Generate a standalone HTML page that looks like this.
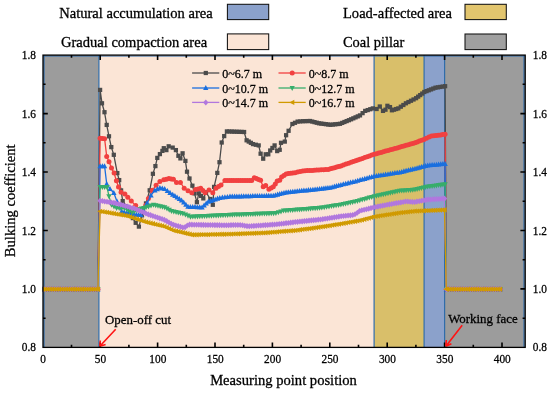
<!DOCTYPE html>
<html><head><meta charset="utf-8"><title>Bulking coefficient</title>
<style>
html,body{margin:0;padding:0;background:#fff;}
svg{display:block;}
text{font-family:"Liberation Serif","Times New Roman",serif;fill:#000;stroke:#000;stroke-width:0.28px;}
.tk{font-size:12.6px;}
.lg{font-size:12px;}
.tl{font-size:14.5px;}
.an{font-size:12.9px;}
.ax{font-size:14.6px;}
</style></head><body>
<svg width="550" height="393" viewBox="0 0 550 393">
<rect width="550" height="393" fill="#fff"/>
<defs><clipPath id="pc"><rect x="42.7" y="55.1" width="482.5" height="292.3"/></clipPath></defs>
<rect x="43.0" y="55.1" width="55.9" height="292.3" fill="#9C9C9C"/>
<rect x="98.9" y="55.1" width="275.2" height="292.3" fill="#FBE5D6"/>
<rect x="374.1" y="55.1" width="50.0" height="292.3" fill="#D9BF6A"/>
<rect x="424.1" y="55.1" width="20.5" height="292.3" fill="#8BA1CB"/>
<rect x="444.6" y="55.1" width="80.6" height="292.3" fill="#9C9C9C"/>
<path d="M44.0 55.1V347.4M98.9 55.1V347.4M374.1 55.1V347.4M424.1 55.1V347.4M444.6 55.1V347.4M524.0 55.1V347.4" stroke="#2F6CAA" stroke-width="1.2" fill="none"/>
<path d="M43.0 56.1H525.2" stroke="#2F6CAA" stroke-width="0.9" fill="none"/>
<path d="M71.5 347.4v-2.6M71.5 55.1v2.6M100.2 347.4v-4.8M100.2 55.1v4.8M128.9 347.4v-2.6M128.9 55.1v2.6M157.6 347.4v-4.8M157.6 55.1v4.8M186.3 347.4v-2.6M186.3 55.1v2.6M215.0 347.4v-4.8M215.0 55.1v4.8M243.7 347.4v-2.6M243.7 55.1v2.6M272.4 347.4v-4.8M272.4 55.1v4.8M301.1 347.4v-2.6M301.1 55.1v2.6M329.8 347.4v-4.8M329.8 55.1v4.8M358.5 347.4v-2.6M358.5 55.1v2.6M387.2 347.4v-4.8M387.2 55.1v4.8M415.9 347.4v-2.6M415.9 55.1v2.6M444.6 347.4v-4.8M444.6 55.1v4.8M473.3 347.4v-2.6M473.3 55.1v2.6M502.0 347.4v-4.8M502.0 55.1v4.8M43.0 318.2h2.6M525.2 318.2h-2.6M43.0 288.9h4.8M525.2 288.9h-4.8M43.0 259.7h2.6M525.2 259.7h-2.6M43.0 230.5h4.8M525.2 230.5h-4.8M43.0 201.2h2.6M525.2 201.2h-2.6M43.0 172.0h4.8M525.2 172.0h-4.8M43.0 142.8h2.6M525.2 142.8h-2.6M43.0 113.6h4.8M525.2 113.6h-4.8M43.0 84.3h2.6M525.2 84.3h-2.6" stroke="#000" stroke-width="1.6" fill="none"/>
<g clip-path="url(#pc)"><path d="M42.8 289.2L45.1 289.2L47.4 289.2L49.7 289.2L52.0 289.2L54.3 289.2L56.6 289.2L58.9 289.2L61.2 289.2L63.5 289.2L65.8 289.2L68.1 289.2L70.4 289.2L72.6 289.2L74.9 289.2L77.2 289.2L79.5 289.2L81.8 289.2L84.1 289.2L86.4 289.2L88.7 289.2L91.0 289.2L93.3 289.2L95.6 289.2L97.9 289.2L100.1 89.9L102.0 103.3L104.5 112.2L106.7 124.9L109.0 136.3L111.3 147.1L113.8 154.8L117.3 173.1L119.2 180.1L121.1 190.4L122.7 201.1L126.0 206.4L130.0 213.4L132.8 218.1L135.7 222.8L138.9 226.6L142.0 215.4L146.0 203.4L149.7 190.3L152.9 173.8L155.4 166.1L157.3 157.9L159.9 154.1L162.4 150.9L163.8 148.2L166.4 150.1L168.7 146.3L172.7 147.6L175.9 150.1L178.4 155.8L180.4 158.4L182.6 153.3L185.4 160.9L187.0 171.7L189.5 178.5L192.4 185.7L194.5 193.4L196.9 202.2L198.8 193.3L201.1 195.8L203.3 198.4L206.0 192.4L210.3 199.0L212.8 204.8L214.1 186.9L217.3 172.9L219.5 162.2L221.7 142.5L224.2 136.1L226.9 131.4L229.4 131.5L231.8 131.6L234.3 131.7L236.7 131.7L239.2 131.8L241.6 131.9L244.1 132.0L246.6 140.3L248.7 141.6L250.9 142.8L253.0 144.1L255.8 144.8L258.7 145.4L260.6 153.7L263.2 158.7L265.7 154.3L268.3 154.3L270.2 150.5L272.4 148.0L274.6 145.4L277.2 151.1L279.7 149.8L281.0 142.8L284.8 141.6L286.1 135.2L288.6 130.8L292.4 124.0L295.0 122.8L297.6 121.6L300.3 121.4L303.0 121.2L305.3 121.1L307.7 121.1L310.0 121.0L312.2 121.6L314.5 122.2L316.8 122.7L319.0 123.3L321.3 123.6L323.6 123.9L325.9 124.2L328.2 124.5L330.5 124.8L332.9 124.6L335.2 124.3L337.6 124.1L340.0 123.8L342.2 122.9L344.4 122.0L346.7 121.1L348.9 120.2L351.1 119.3L353.3 118.3L355.6 117.4L357.8 116.4L360.0 115.4L362.6 113.1L365.2 110.9L367.7 110.1L370.3 109.2L372.8 108.4L376.6 109.0L379.8 106.5L383.0 110.9L385.5 109.7L387.4 105.8L390.0 107.1L391.9 110.3L394.0 109.7L396.2 109.0L398.3 108.4L400.8 106.7L403.4 105.0L405.9 103.3L408.4 102.0L411.0 100.8L413.6 99.5L416.1 98.2L418.2 96.6L420.2 95.1L422.2 93.6L424.3 92.0L426.5 91.1L428.8 90.3L431.0 89.4L433.3 88.6L435.5 87.7L437.9 87.3L440.3 87.0L442.7 86.6L445.1 86.2L446.3 289.2L447.2 289.2L449.5 289.2L451.8 289.2L454.1 289.2L456.4 289.2L458.7 289.2L461.0 289.2L463.3 289.2L465.6 289.2L467.9 289.2L470.2 289.2L472.5 289.2L474.7 289.2L477.0 289.2L479.3 289.2L481.6 289.2L483.9 289.2L486.2 289.2L488.5 289.2L490.8 289.2L493.1 289.2L495.4 289.2L497.7 289.2L500.0 289.2" fill="none" stroke="#4B4B4B" stroke-width="1.3" stroke-linejoin="round"/>
<rect x="40.68" y="287.12" width="4.24" height="4.24" fill="#4B4B4B"/><rect x="42.98" y="287.12" width="4.24" height="4.24" fill="#4B4B4B"/><rect x="45.27" y="287.12" width="4.24" height="4.24" fill="#4B4B4B"/><rect x="47.57" y="287.12" width="4.24" height="4.24" fill="#4B4B4B"/><rect x="49.86" y="287.12" width="4.24" height="4.24" fill="#4B4B4B"/><rect x="52.16" y="287.12" width="4.24" height="4.24" fill="#4B4B4B"/><rect x="54.46" y="287.12" width="4.24" height="4.24" fill="#4B4B4B"/><rect x="56.75" y="287.12" width="4.24" height="4.24" fill="#4B4B4B"/><rect x="59.05" y="287.12" width="4.24" height="4.24" fill="#4B4B4B"/><rect x="61.34" y="287.12" width="4.24" height="4.24" fill="#4B4B4B"/><rect x="63.64" y="287.12" width="4.24" height="4.24" fill="#4B4B4B"/><rect x="65.94" y="287.12" width="4.24" height="4.24" fill="#4B4B4B"/><rect x="68.23" y="287.12" width="4.24" height="4.24" fill="#4B4B4B"/><rect x="70.53" y="287.12" width="4.24" height="4.24" fill="#4B4B4B"/><rect x="72.82" y="287.12" width="4.24" height="4.24" fill="#4B4B4B"/><rect x="75.12" y="287.12" width="4.24" height="4.24" fill="#4B4B4B"/><rect x="77.42" y="287.12" width="4.24" height="4.24" fill="#4B4B4B"/><rect x="79.71" y="287.12" width="4.24" height="4.24" fill="#4B4B4B"/><rect x="82.01" y="287.12" width="4.24" height="4.24" fill="#4B4B4B"/><rect x="84.30" y="287.12" width="4.24" height="4.24" fill="#4B4B4B"/><rect x="86.60" y="287.12" width="4.24" height="4.24" fill="#4B4B4B"/><rect x="88.90" y="287.12" width="4.24" height="4.24" fill="#4B4B4B"/><rect x="91.19" y="287.12" width="4.24" height="4.24" fill="#4B4B4B"/><rect x="93.49" y="287.12" width="4.24" height="4.24" fill="#4B4B4B"/><rect x="95.78" y="287.12" width="4.24" height="4.24" fill="#4B4B4B"/><rect x="97.98" y="87.78" width="4.24" height="4.24" fill="#4B4B4B"/><rect x="99.88" y="101.18" width="4.24" height="4.24" fill="#4B4B4B"/><rect x="102.38" y="110.08" width="4.24" height="4.24" fill="#4B4B4B"/><rect x="104.58" y="122.78" width="4.24" height="4.24" fill="#4B4B4B"/><rect x="106.88" y="134.18" width="4.24" height="4.24" fill="#4B4B4B"/><rect x="109.18" y="144.98" width="4.24" height="4.24" fill="#4B4B4B"/><rect x="111.68" y="152.68" width="4.24" height="4.24" fill="#4B4B4B"/><rect x="115.18" y="170.98" width="4.24" height="4.24" fill="#4B4B4B"/><rect x="117.08" y="177.98" width="4.24" height="4.24" fill="#4B4B4B"/><rect x="118.98" y="188.28" width="4.24" height="4.24" fill="#4B4B4B"/><rect x="120.58" y="198.98" width="4.24" height="4.24" fill="#4B4B4B"/><rect x="123.88" y="204.28" width="4.24" height="4.24" fill="#4B4B4B"/><rect x="127.88" y="211.28" width="4.24" height="4.24" fill="#4B4B4B"/><rect x="130.73" y="215.98" width="4.24" height="4.24" fill="#4B4B4B"/><rect x="133.58" y="220.68" width="4.24" height="4.24" fill="#4B4B4B"/><rect x="136.78" y="224.48" width="4.24" height="4.24" fill="#4B4B4B"/><rect x="139.88" y="213.28" width="4.24" height="4.24" fill="#4B4B4B"/><rect x="143.88" y="201.28" width="4.24" height="4.24" fill="#4B4B4B"/><rect x="147.58" y="188.18" width="4.24" height="4.24" fill="#4B4B4B"/><rect x="150.78" y="171.68" width="4.24" height="4.24" fill="#4B4B4B"/><rect x="153.28" y="163.98" width="4.24" height="4.24" fill="#4B4B4B"/><rect x="155.18" y="155.78" width="4.24" height="4.24" fill="#4B4B4B"/><rect x="157.78" y="151.98" width="4.24" height="4.24" fill="#4B4B4B"/><rect x="160.28" y="148.78" width="4.24" height="4.24" fill="#4B4B4B"/><rect x="161.68" y="146.08" width="4.24" height="4.24" fill="#4B4B4B"/><rect x="164.28" y="147.98" width="4.24" height="4.24" fill="#4B4B4B"/><rect x="166.58" y="144.18" width="4.24" height="4.24" fill="#4B4B4B"/><rect x="170.58" y="145.48" width="4.24" height="4.24" fill="#4B4B4B"/><rect x="173.78" y="147.98" width="4.24" height="4.24" fill="#4B4B4B"/><rect x="176.28" y="153.68" width="4.24" height="4.24" fill="#4B4B4B"/><rect x="178.28" y="156.28" width="4.24" height="4.24" fill="#4B4B4B"/><rect x="180.48" y="151.18" width="4.24" height="4.24" fill="#4B4B4B"/><rect x="183.28" y="158.78" width="4.24" height="4.24" fill="#4B4B4B"/><rect x="184.88" y="169.58" width="4.24" height="4.24" fill="#4B4B4B"/><rect x="187.38" y="176.38" width="4.24" height="4.24" fill="#4B4B4B"/><rect x="190.28" y="183.58" width="4.24" height="4.24" fill="#4B4B4B"/><rect x="192.38" y="191.28" width="4.24" height="4.24" fill="#4B4B4B"/><rect x="194.78" y="200.08" width="4.24" height="4.24" fill="#4B4B4B"/><rect x="196.68" y="191.18" width="4.24" height="4.24" fill="#4B4B4B"/><rect x="198.93" y="193.73" width="4.24" height="4.24" fill="#4B4B4B"/><rect x="201.18" y="196.28" width="4.24" height="4.24" fill="#4B4B4B"/><rect x="203.88" y="190.28" width="4.24" height="4.24" fill="#4B4B4B"/><rect x="208.18" y="196.88" width="4.24" height="4.24" fill="#4B4B4B"/><rect x="210.68" y="202.68" width="4.24" height="4.24" fill="#4B4B4B"/><rect x="211.98" y="184.78" width="4.24" height="4.24" fill="#4B4B4B"/><rect x="215.18" y="170.78" width="4.24" height="4.24" fill="#4B4B4B"/><rect x="217.38" y="160.08" width="4.24" height="4.24" fill="#4B4B4B"/><rect x="219.58" y="140.38" width="4.24" height="4.24" fill="#4B4B4B"/><rect x="222.08" y="133.98" width="4.24" height="4.24" fill="#4B4B4B"/><rect x="224.78" y="129.28" width="4.24" height="4.24" fill="#4B4B4B"/><rect x="227.24" y="129.37" width="4.24" height="4.24" fill="#4B4B4B"/><rect x="229.69" y="129.45" width="4.24" height="4.24" fill="#4B4B4B"/><rect x="232.15" y="129.54" width="4.24" height="4.24" fill="#4B4B4B"/><rect x="234.61" y="129.62" width="4.24" height="4.24" fill="#4B4B4B"/><rect x="237.07" y="129.71" width="4.24" height="4.24" fill="#4B4B4B"/><rect x="239.52" y="129.79" width="4.24" height="4.24" fill="#4B4B4B"/><rect x="241.98" y="129.88" width="4.24" height="4.24" fill="#4B4B4B"/><rect x="244.48" y="138.18" width="4.24" height="4.24" fill="#4B4B4B"/><rect x="246.61" y="139.45" width="4.24" height="4.24" fill="#4B4B4B"/><rect x="248.75" y="140.71" width="4.24" height="4.24" fill="#4B4B4B"/><rect x="250.88" y="141.98" width="4.24" height="4.24" fill="#4B4B4B"/><rect x="253.73" y="142.63" width="4.24" height="4.24" fill="#4B4B4B"/><rect x="256.58" y="143.28" width="4.24" height="4.24" fill="#4B4B4B"/><rect x="258.48" y="151.58" width="4.24" height="4.24" fill="#4B4B4B"/><rect x="261.08" y="156.58" width="4.24" height="4.24" fill="#4B4B4B"/><rect x="263.58" y="152.18" width="4.24" height="4.24" fill="#4B4B4B"/><rect x="266.18" y="152.18" width="4.24" height="4.24" fill="#4B4B4B"/><rect x="268.08" y="148.38" width="4.24" height="4.24" fill="#4B4B4B"/><rect x="270.28" y="145.83" width="4.24" height="4.24" fill="#4B4B4B"/><rect x="272.48" y="143.28" width="4.24" height="4.24" fill="#4B4B4B"/><rect x="275.08" y="148.98" width="4.24" height="4.24" fill="#4B4B4B"/><rect x="277.58" y="147.68" width="4.24" height="4.24" fill="#4B4B4B"/><rect x="278.88" y="140.68" width="4.24" height="4.24" fill="#4B4B4B"/><rect x="282.68" y="139.48" width="4.24" height="4.24" fill="#4B4B4B"/><rect x="283.98" y="133.08" width="4.24" height="4.24" fill="#4B4B4B"/><rect x="286.48" y="128.68" width="4.24" height="4.24" fill="#4B4B4B"/><rect x="290.28" y="121.88" width="4.24" height="4.24" fill="#4B4B4B"/><rect x="292.88" y="120.68" width="4.24" height="4.24" fill="#4B4B4B"/><rect x="295.48" y="119.48" width="4.24" height="4.24" fill="#4B4B4B"/><rect x="298.18" y="119.28" width="4.24" height="4.24" fill="#4B4B4B"/><rect x="300.88" y="119.08" width="4.24" height="4.24" fill="#4B4B4B"/><rect x="303.21" y="119.01" width="4.24" height="4.24" fill="#4B4B4B"/><rect x="305.55" y="118.95" width="4.24" height="4.24" fill="#4B4B4B"/><rect x="307.88" y="118.88" width="4.24" height="4.24" fill="#4B4B4B"/><rect x="310.13" y="119.45" width="4.24" height="4.24" fill="#4B4B4B"/><rect x="312.38" y="120.03" width="4.24" height="4.24" fill="#4B4B4B"/><rect x="314.63" y="120.61" width="4.24" height="4.24" fill="#4B4B4B"/><rect x="316.88" y="121.18" width="4.24" height="4.24" fill="#4B4B4B"/><rect x="319.18" y="121.48" width="4.24" height="4.24" fill="#4B4B4B"/><rect x="321.48" y="121.78" width="4.24" height="4.24" fill="#4B4B4B"/><rect x="323.78" y="122.08" width="4.24" height="4.24" fill="#4B4B4B"/><rect x="326.08" y="122.38" width="4.24" height="4.24" fill="#4B4B4B"/><rect x="328.38" y="122.68" width="4.24" height="4.24" fill="#4B4B4B"/><rect x="330.75" y="122.43" width="4.24" height="4.24" fill="#4B4B4B"/><rect x="333.13" y="122.18" width="4.24" height="4.24" fill="#4B4B4B"/><rect x="335.50" y="121.93" width="4.24" height="4.24" fill="#4B4B4B"/><rect x="337.88" y="121.68" width="4.24" height="4.24" fill="#4B4B4B"/><rect x="340.10" y="120.78" width="4.24" height="4.24" fill="#4B4B4B"/><rect x="342.32" y="119.88" width="4.24" height="4.24" fill="#4B4B4B"/><rect x="344.54" y="118.98" width="4.24" height="4.24" fill="#4B4B4B"/><rect x="346.76" y="118.08" width="4.24" height="4.24" fill="#4B4B4B"/><rect x="348.98" y="117.18" width="4.24" height="4.24" fill="#4B4B4B"/><rect x="351.21" y="116.20" width="4.24" height="4.24" fill="#4B4B4B"/><rect x="353.43" y="115.23" width="4.24" height="4.24" fill="#4B4B4B"/><rect x="355.65" y="114.26" width="4.24" height="4.24" fill="#4B4B4B"/><rect x="357.88" y="113.28" width="4.24" height="4.24" fill="#4B4B4B"/><rect x="360.48" y="111.03" width="4.24" height="4.24" fill="#4B4B4B"/><rect x="363.08" y="108.78" width="4.24" height="4.24" fill="#4B4B4B"/><rect x="365.61" y="107.95" width="4.24" height="4.24" fill="#4B4B4B"/><rect x="368.15" y="107.11" width="4.24" height="4.24" fill="#4B4B4B"/><rect x="370.68" y="106.28" width="4.24" height="4.24" fill="#4B4B4B"/><rect x="374.48" y="106.88" width="4.24" height="4.24" fill="#4B4B4B"/><rect x="377.68" y="104.38" width="4.24" height="4.24" fill="#4B4B4B"/><rect x="380.88" y="108.78" width="4.24" height="4.24" fill="#4B4B4B"/><rect x="383.38" y="107.58" width="4.24" height="4.24" fill="#4B4B4B"/><rect x="385.28" y="103.68" width="4.24" height="4.24" fill="#4B4B4B"/><rect x="387.88" y="104.98" width="4.24" height="4.24" fill="#4B4B4B"/><rect x="389.78" y="108.18" width="4.24" height="4.24" fill="#4B4B4B"/><rect x="391.91" y="107.55" width="4.24" height="4.24" fill="#4B4B4B"/><rect x="394.05" y="106.91" width="4.24" height="4.24" fill="#4B4B4B"/><rect x="396.18" y="106.28" width="4.24" height="4.24" fill="#4B4B4B"/><rect x="398.71" y="104.58" width="4.24" height="4.24" fill="#4B4B4B"/><rect x="401.25" y="102.88" width="4.24" height="4.24" fill="#4B4B4B"/><rect x="403.78" y="101.18" width="4.24" height="4.24" fill="#4B4B4B"/><rect x="406.33" y="99.91" width="4.24" height="4.24" fill="#4B4B4B"/><rect x="408.88" y="98.63" width="4.24" height="4.24" fill="#4B4B4B"/><rect x="411.43" y="97.36" width="4.24" height="4.24" fill="#4B4B4B"/><rect x="413.98" y="96.08" width="4.24" height="4.24" fill="#4B4B4B"/><rect x="416.03" y="94.53" width="4.24" height="4.24" fill="#4B4B4B"/><rect x="418.08" y="92.98" width="4.24" height="4.24" fill="#4B4B4B"/><rect x="420.13" y="91.43" width="4.24" height="4.24" fill="#4B4B4B"/><rect x="422.18" y="89.88" width="4.24" height="4.24" fill="#4B4B4B"/><rect x="424.42" y="89.02" width="4.24" height="4.24" fill="#4B4B4B"/><rect x="426.66" y="88.16" width="4.24" height="4.24" fill="#4B4B4B"/><rect x="428.90" y="87.30" width="4.24" height="4.24" fill="#4B4B4B"/><rect x="431.14" y="86.44" width="4.24" height="4.24" fill="#4B4B4B"/><rect x="433.38" y="85.58" width="4.24" height="4.24" fill="#4B4B4B"/><rect x="435.78" y="85.20" width="4.24" height="4.24" fill="#4B4B4B"/><rect x="438.18" y="84.83" width="4.24" height="4.24" fill="#4B4B4B"/><rect x="440.58" y="84.45" width="4.24" height="4.24" fill="#4B4B4B"/><rect x="442.98" y="84.08" width="4.24" height="4.24" fill="#4B4B4B"/><rect x="444.18" y="287.12" width="4.24" height="4.24" fill="#4B4B4B"/><rect x="445.08" y="287.12" width="4.24" height="4.24" fill="#4B4B4B"/><rect x="447.37" y="287.12" width="4.24" height="4.24" fill="#4B4B4B"/><rect x="449.67" y="287.12" width="4.24" height="4.24" fill="#4B4B4B"/><rect x="451.96" y="287.12" width="4.24" height="4.24" fill="#4B4B4B"/><rect x="454.26" y="287.12" width="4.24" height="4.24" fill="#4B4B4B"/><rect x="456.56" y="287.12" width="4.24" height="4.24" fill="#4B4B4B"/><rect x="458.85" y="287.12" width="4.24" height="4.24" fill="#4B4B4B"/><rect x="461.15" y="287.12" width="4.24" height="4.24" fill="#4B4B4B"/><rect x="463.44" y="287.12" width="4.24" height="4.24" fill="#4B4B4B"/><rect x="465.74" y="287.12" width="4.24" height="4.24" fill="#4B4B4B"/><rect x="468.04" y="287.12" width="4.24" height="4.24" fill="#4B4B4B"/><rect x="470.33" y="287.12" width="4.24" height="4.24" fill="#4B4B4B"/><rect x="472.63" y="287.12" width="4.24" height="4.24" fill="#4B4B4B"/><rect x="474.92" y="287.12" width="4.24" height="4.24" fill="#4B4B4B"/><rect x="477.22" y="287.12" width="4.24" height="4.24" fill="#4B4B4B"/><rect x="479.52" y="287.12" width="4.24" height="4.24" fill="#4B4B4B"/><rect x="481.81" y="287.12" width="4.24" height="4.24" fill="#4B4B4B"/><rect x="484.11" y="287.12" width="4.24" height="4.24" fill="#4B4B4B"/><rect x="486.40" y="287.12" width="4.24" height="4.24" fill="#4B4B4B"/><rect x="488.70" y="287.12" width="4.24" height="4.24" fill="#4B4B4B"/><rect x="491.00" y="287.12" width="4.24" height="4.24" fill="#4B4B4B"/><rect x="493.29" y="287.12" width="4.24" height="4.24" fill="#4B4B4B"/><rect x="495.59" y="287.12" width="4.24" height="4.24" fill="#4B4B4B"/><rect x="497.88" y="287.12" width="4.24" height="4.24" fill="#4B4B4B"/>
</g>
<g clip-path="url(#pc)"><path d="M42.8 289.2L45.1 289.2L47.4 289.2L49.7 289.2L52.0 289.2L54.3 289.2L56.6 289.2L58.9 289.2L61.2 289.2L63.5 289.2L65.8 289.2L68.1 289.2L70.4 289.2L72.6 289.2L74.9 289.2L77.2 289.2L79.5 289.2L81.8 289.2L84.1 289.2L86.4 289.2L88.7 289.2L91.0 289.2L93.3 289.2L95.6 289.2L97.9 289.2L100.1 138.2L102.4 138.4L104.6 138.7L106.7 156.4L109.0 161.7L111.5 168.1L114.1 173.1L116.4 180.8L118.5 187.1L121.1 192.2L124.9 194.1L127.8 197.3L131.3 201.1L135.7 205.6L139.3 209.7L142.8 210.7L145.8 205.2L148.4 198.6L152.3 190.3L156.1 185.2L159.9 181.4L163.8 179.7L166.4 179.2L168.9 178.6L171.2 178.9L173.4 179.2L176.5 182.5L180.4 182.5L184.2 188.2L188.0 190.8L191.8 192.7L195.6 189.5L198.1 188.9L200.7 188.2L202.9 190.5L205.2 192.7L209.0 190.1L212.8 192.7L216.0 188.2L218.5 186.6L221.0 185.0L224.9 180.6L227.1 180.6L229.4 180.6L231.6 180.6L233.8 180.6L236.1 180.6L238.3 180.6L240.5 180.6L242.8 180.6L245.0 180.6L247.2 180.6L249.5 180.6L251.7 180.6L254.3 177.8L256.4 178.6L258.5 179.5L260.6 180.3L263.2 186.7L265.7 185.4L268.9 189.2L271.1 187.9L273.3 186.7L275.3 184.1L277.2 180.9L279.7 180.3L281.6 177.1L283.9 175.5L286.1 173.9L288.3 173.6L290.6 173.3L292.8 173.0L295.0 172.7L297.6 172.1L300.1 171.5L302.7 170.9L305.0 170.8L307.3 170.6L309.7 170.5L312.0 170.4L314.3 170.2L316.6 170.1L318.9 169.9L321.2 169.8L323.6 169.7L325.9 169.5L328.2 169.4L330.3 168.8L332.4 168.3L334.5 167.7L336.7 167.1L338.8 166.6L340.9 166.0L343.4 165.1L346.0 164.1L348.6 163.2L351.1 162.2L353.3 161.5L355.6 160.8L357.8 160.0L360.0 159.3L362.4 158.5L364.7 157.6L367.1 156.8L369.4 156.0L371.8 155.1L374.1 154.3L376.4 153.7L378.7 153.0L381.0 152.4L383.3 151.8L385.6 151.1L388.0 150.5L390.3 149.8L392.6 149.2L394.9 148.6L397.2 147.9L399.5 147.3L401.7 146.6L403.9 146.0L406.1 145.3L408.4 144.7L410.6 144.0L412.8 143.4L415.0 142.7L417.2 141.9L419.4 141.1L421.7 140.2L423.9 139.4L426.4 138.3L429.0 137.1L431.5 136.0L433.8 135.7L436.0 135.4L438.3 135.2L440.6 134.9L442.8 134.6L445.1 134.3L446.3 289.2L447.2 289.2L449.5 289.2L451.8 289.2L454.1 289.2L456.4 289.2L458.7 289.2L461.0 289.2L463.3 289.2L465.6 289.2L467.9 289.2L470.2 289.2L472.5 289.2L474.7 289.2L477.0 289.2L479.3 289.2L481.6 289.2L483.9 289.2L486.2 289.2L488.5 289.2L490.8 289.2L493.1 289.2L495.4 289.2L497.7 289.2L500.0 289.2" fill="none" stroke="#F14040" stroke-width="1.3" stroke-linejoin="round"/>
<circle cx="42.8" cy="289.2" r="2.5" fill="#F14040"/><circle cx="45.1" cy="289.2" r="2.5" fill="#F14040"/><circle cx="47.4" cy="289.2" r="2.5" fill="#F14040"/><circle cx="49.7" cy="289.2" r="2.5" fill="#F14040"/><circle cx="52.0" cy="289.2" r="2.5" fill="#F14040"/><circle cx="54.3" cy="289.2" r="2.5" fill="#F14040"/><circle cx="56.6" cy="289.2" r="2.5" fill="#F14040"/><circle cx="58.9" cy="289.2" r="2.5" fill="#F14040"/><circle cx="61.2" cy="289.2" r="2.5" fill="#F14040"/><circle cx="63.5" cy="289.2" r="2.5" fill="#F14040"/><circle cx="65.8" cy="289.2" r="2.5" fill="#F14040"/><circle cx="68.1" cy="289.2" r="2.5" fill="#F14040"/><circle cx="70.4" cy="289.2" r="2.5" fill="#F14040"/><circle cx="72.6" cy="289.2" r="2.5" fill="#F14040"/><circle cx="74.9" cy="289.2" r="2.5" fill="#F14040"/><circle cx="77.2" cy="289.2" r="2.5" fill="#F14040"/><circle cx="79.5" cy="289.2" r="2.5" fill="#F14040"/><circle cx="81.8" cy="289.2" r="2.5" fill="#F14040"/><circle cx="84.1" cy="289.2" r="2.5" fill="#F14040"/><circle cx="86.4" cy="289.2" r="2.5" fill="#F14040"/><circle cx="88.7" cy="289.2" r="2.5" fill="#F14040"/><circle cx="91.0" cy="289.2" r="2.5" fill="#F14040"/><circle cx="93.3" cy="289.2" r="2.5" fill="#F14040"/><circle cx="95.6" cy="289.2" r="2.5" fill="#F14040"/><circle cx="97.9" cy="289.2" r="2.5" fill="#F14040"/><circle cx="100.1" cy="138.2" r="2.5" fill="#F14040"/><circle cx="102.4" cy="138.4" r="2.5" fill="#F14040"/><circle cx="104.6" cy="138.7" r="2.5" fill="#F14040"/><circle cx="106.7" cy="156.4" r="2.5" fill="#F14040"/><circle cx="109.0" cy="161.7" r="2.5" fill="#F14040"/><circle cx="111.5" cy="168.1" r="2.5" fill="#F14040"/><circle cx="114.1" cy="173.1" r="2.5" fill="#F14040"/><circle cx="116.4" cy="180.8" r="2.5" fill="#F14040"/><circle cx="118.5" cy="187.1" r="2.5" fill="#F14040"/><circle cx="121.1" cy="192.2" r="2.5" fill="#F14040"/><circle cx="124.9" cy="194.1" r="2.5" fill="#F14040"/><circle cx="127.8" cy="197.3" r="2.5" fill="#F14040"/><circle cx="131.3" cy="201.1" r="2.5" fill="#F14040"/><circle cx="135.7" cy="205.6" r="2.5" fill="#F14040"/><circle cx="139.3" cy="209.7" r="2.5" fill="#F14040"/><circle cx="142.8" cy="210.7" r="2.5" fill="#F14040"/><circle cx="145.8" cy="205.2" r="2.5" fill="#F14040"/><circle cx="148.4" cy="198.6" r="2.5" fill="#F14040"/><circle cx="152.3" cy="190.3" r="2.5" fill="#F14040"/><circle cx="156.1" cy="185.2" r="2.5" fill="#F14040"/><circle cx="159.9" cy="181.4" r="2.5" fill="#F14040"/><circle cx="163.8" cy="179.7" r="2.5" fill="#F14040"/><circle cx="166.4" cy="179.2" r="2.5" fill="#F14040"/><circle cx="168.9" cy="178.6" r="2.5" fill="#F14040"/><circle cx="171.2" cy="178.9" r="2.5" fill="#F14040"/><circle cx="173.4" cy="179.2" r="2.5" fill="#F14040"/><circle cx="176.5" cy="182.5" r="2.5" fill="#F14040"/><circle cx="180.4" cy="182.5" r="2.5" fill="#F14040"/><circle cx="184.2" cy="188.2" r="2.5" fill="#F14040"/><circle cx="188.0" cy="190.8" r="2.5" fill="#F14040"/><circle cx="191.8" cy="192.7" r="2.5" fill="#F14040"/><circle cx="195.6" cy="189.5" r="2.5" fill="#F14040"/><circle cx="198.1" cy="188.9" r="2.5" fill="#F14040"/><circle cx="200.7" cy="188.2" r="2.5" fill="#F14040"/><circle cx="202.9" cy="190.5" r="2.5" fill="#F14040"/><circle cx="205.2" cy="192.7" r="2.5" fill="#F14040"/><circle cx="209.0" cy="190.1" r="2.5" fill="#F14040"/><circle cx="212.8" cy="192.7" r="2.5" fill="#F14040"/><circle cx="216.0" cy="188.2" r="2.5" fill="#F14040"/><circle cx="218.5" cy="186.6" r="2.5" fill="#F14040"/><circle cx="221.0" cy="185.0" r="2.5" fill="#F14040"/><circle cx="224.9" cy="180.6" r="2.5" fill="#F14040"/><circle cx="227.1" cy="180.6" r="2.5" fill="#F14040"/><circle cx="229.4" cy="180.6" r="2.5" fill="#F14040"/><circle cx="231.6" cy="180.6" r="2.5" fill="#F14040"/><circle cx="233.8" cy="180.6" r="2.5" fill="#F14040"/><circle cx="236.1" cy="180.6" r="2.5" fill="#F14040"/><circle cx="238.3" cy="180.6" r="2.5" fill="#F14040"/><circle cx="240.5" cy="180.6" r="2.5" fill="#F14040"/><circle cx="242.8" cy="180.6" r="2.5" fill="#F14040"/><circle cx="245.0" cy="180.6" r="2.5" fill="#F14040"/><circle cx="247.2" cy="180.6" r="2.5" fill="#F14040"/><circle cx="249.5" cy="180.6" r="2.5" fill="#F14040"/><circle cx="251.7" cy="180.6" r="2.5" fill="#F14040"/><circle cx="254.3" cy="177.8" r="2.5" fill="#F14040"/><circle cx="256.4" cy="178.6" r="2.5" fill="#F14040"/><circle cx="258.5" cy="179.5" r="2.5" fill="#F14040"/><circle cx="260.6" cy="180.3" r="2.5" fill="#F14040"/><circle cx="263.2" cy="186.7" r="2.5" fill="#F14040"/><circle cx="265.7" cy="185.4" r="2.5" fill="#F14040"/><circle cx="268.9" cy="189.2" r="2.5" fill="#F14040"/><circle cx="271.1" cy="187.9" r="2.5" fill="#F14040"/><circle cx="273.3" cy="186.7" r="2.5" fill="#F14040"/><circle cx="275.3" cy="184.1" r="2.5" fill="#F14040"/><circle cx="277.2" cy="180.9" r="2.5" fill="#F14040"/><circle cx="279.7" cy="180.3" r="2.5" fill="#F14040"/><circle cx="281.6" cy="177.1" r="2.5" fill="#F14040"/><circle cx="283.9" cy="175.5" r="2.5" fill="#F14040"/><circle cx="286.1" cy="173.9" r="2.5" fill="#F14040"/><circle cx="288.3" cy="173.6" r="2.5" fill="#F14040"/><circle cx="290.6" cy="173.3" r="2.5" fill="#F14040"/><circle cx="292.8" cy="173.0" r="2.5" fill="#F14040"/><circle cx="295.0" cy="172.7" r="2.5" fill="#F14040"/><circle cx="297.6" cy="172.1" r="2.5" fill="#F14040"/><circle cx="300.1" cy="171.5" r="2.5" fill="#F14040"/><circle cx="302.7" cy="170.9" r="2.5" fill="#F14040"/><circle cx="305.0" cy="170.8" r="2.5" fill="#F14040"/><circle cx="307.3" cy="170.6" r="2.5" fill="#F14040"/><circle cx="309.7" cy="170.5" r="2.5" fill="#F14040"/><circle cx="312.0" cy="170.4" r="2.5" fill="#F14040"/><circle cx="314.3" cy="170.2" r="2.5" fill="#F14040"/><circle cx="316.6" cy="170.1" r="2.5" fill="#F14040"/><circle cx="318.9" cy="169.9" r="2.5" fill="#F14040"/><circle cx="321.2" cy="169.8" r="2.5" fill="#F14040"/><circle cx="323.6" cy="169.7" r="2.5" fill="#F14040"/><circle cx="325.9" cy="169.5" r="2.5" fill="#F14040"/><circle cx="328.2" cy="169.4" r="2.5" fill="#F14040"/><circle cx="330.3" cy="168.8" r="2.5" fill="#F14040"/><circle cx="332.4" cy="168.3" r="2.5" fill="#F14040"/><circle cx="334.5" cy="167.7" r="2.5" fill="#F14040"/><circle cx="336.7" cy="167.1" r="2.5" fill="#F14040"/><circle cx="338.8" cy="166.6" r="2.5" fill="#F14040"/><circle cx="340.9" cy="166.0" r="2.5" fill="#F14040"/><circle cx="343.4" cy="165.1" r="2.5" fill="#F14040"/><circle cx="346.0" cy="164.1" r="2.5" fill="#F14040"/><circle cx="348.6" cy="163.2" r="2.5" fill="#F14040"/><circle cx="351.1" cy="162.2" r="2.5" fill="#F14040"/><circle cx="353.3" cy="161.5" r="2.5" fill="#F14040"/><circle cx="355.6" cy="160.8" r="2.5" fill="#F14040"/><circle cx="357.8" cy="160.0" r="2.5" fill="#F14040"/><circle cx="360.0" cy="159.3" r="2.5" fill="#F14040"/><circle cx="362.4" cy="158.5" r="2.5" fill="#F14040"/><circle cx="364.7" cy="157.6" r="2.5" fill="#F14040"/><circle cx="367.1" cy="156.8" r="2.5" fill="#F14040"/><circle cx="369.4" cy="156.0" r="2.5" fill="#F14040"/><circle cx="371.8" cy="155.1" r="2.5" fill="#F14040"/><circle cx="374.1" cy="154.3" r="2.5" fill="#F14040"/><circle cx="376.4" cy="153.7" r="2.5" fill="#F14040"/><circle cx="378.7" cy="153.0" r="2.5" fill="#F14040"/><circle cx="381.0" cy="152.4" r="2.5" fill="#F14040"/><circle cx="383.3" cy="151.8" r="2.5" fill="#F14040"/><circle cx="385.6" cy="151.1" r="2.5" fill="#F14040"/><circle cx="388.0" cy="150.5" r="2.5" fill="#F14040"/><circle cx="390.3" cy="149.8" r="2.5" fill="#F14040"/><circle cx="392.6" cy="149.2" r="2.5" fill="#F14040"/><circle cx="394.9" cy="148.6" r="2.5" fill="#F14040"/><circle cx="397.2" cy="147.9" r="2.5" fill="#F14040"/><circle cx="399.5" cy="147.3" r="2.5" fill="#F14040"/><circle cx="401.7" cy="146.6" r="2.5" fill="#F14040"/><circle cx="403.9" cy="146.0" r="2.5" fill="#F14040"/><circle cx="406.1" cy="145.3" r="2.5" fill="#F14040"/><circle cx="408.4" cy="144.7" r="2.5" fill="#F14040"/><circle cx="410.6" cy="144.0" r="2.5" fill="#F14040"/><circle cx="412.8" cy="143.4" r="2.5" fill="#F14040"/><circle cx="415.0" cy="142.7" r="2.5" fill="#F14040"/><circle cx="417.2" cy="141.9" r="2.5" fill="#F14040"/><circle cx="419.4" cy="141.1" r="2.5" fill="#F14040"/><circle cx="421.7" cy="140.2" r="2.5" fill="#F14040"/><circle cx="423.9" cy="139.4" r="2.5" fill="#F14040"/><circle cx="426.4" cy="138.3" r="2.5" fill="#F14040"/><circle cx="429.0" cy="137.1" r="2.5" fill="#F14040"/><circle cx="431.5" cy="136.0" r="2.5" fill="#F14040"/><circle cx="433.8" cy="135.7" r="2.5" fill="#F14040"/><circle cx="436.0" cy="135.4" r="2.5" fill="#F14040"/><circle cx="438.3" cy="135.2" r="2.5" fill="#F14040"/><circle cx="440.6" cy="134.9" r="2.5" fill="#F14040"/><circle cx="442.8" cy="134.6" r="2.5" fill="#F14040"/><circle cx="445.1" cy="134.3" r="2.5" fill="#F14040"/><circle cx="446.3" cy="289.2" r="2.5" fill="#F14040"/><circle cx="447.2" cy="289.2" r="2.5" fill="#F14040"/><circle cx="449.5" cy="289.2" r="2.5" fill="#F14040"/><circle cx="451.8" cy="289.2" r="2.5" fill="#F14040"/><circle cx="454.1" cy="289.2" r="2.5" fill="#F14040"/><circle cx="456.4" cy="289.2" r="2.5" fill="#F14040"/><circle cx="458.7" cy="289.2" r="2.5" fill="#F14040"/><circle cx="461.0" cy="289.2" r="2.5" fill="#F14040"/><circle cx="463.3" cy="289.2" r="2.5" fill="#F14040"/><circle cx="465.6" cy="289.2" r="2.5" fill="#F14040"/><circle cx="467.9" cy="289.2" r="2.5" fill="#F14040"/><circle cx="470.2" cy="289.2" r="2.5" fill="#F14040"/><circle cx="472.5" cy="289.2" r="2.5" fill="#F14040"/><circle cx="474.7" cy="289.2" r="2.5" fill="#F14040"/><circle cx="477.0" cy="289.2" r="2.5" fill="#F14040"/><circle cx="479.3" cy="289.2" r="2.5" fill="#F14040"/><circle cx="481.6" cy="289.2" r="2.5" fill="#F14040"/><circle cx="483.9" cy="289.2" r="2.5" fill="#F14040"/><circle cx="486.2" cy="289.2" r="2.5" fill="#F14040"/><circle cx="488.5" cy="289.2" r="2.5" fill="#F14040"/><circle cx="490.8" cy="289.2" r="2.5" fill="#F14040"/><circle cx="493.1" cy="289.2" r="2.5" fill="#F14040"/><circle cx="495.4" cy="289.2" r="2.5" fill="#F14040"/><circle cx="497.7" cy="289.2" r="2.5" fill="#F14040"/><circle cx="500.0" cy="289.2" r="2.5" fill="#F14040"/>
</g>
<g clip-path="url(#pc)"><path d="M42.8 289.2L45.1 289.2L47.4 289.2L49.7 289.2L52.0 289.2L54.3 289.2L56.6 289.2L58.9 289.2L61.2 289.2L63.5 289.2L65.8 289.2L68.1 289.2L70.4 289.2L72.6 289.2L74.9 289.2L77.2 289.2L79.5 289.2L81.8 289.2L84.1 289.2L86.4 289.2L88.7 289.2L91.0 289.2L93.3 289.2L95.6 289.2L97.9 289.2L100.1 166.1L102.4 166.1L104.6 166.1L106.7 183.9L110.0 189.0L113.8 192.8L117.0 201.4L119.3 206.3L121.7 211.3L124.2 212.1L126.8 212.9L129.3 213.6L131.9 214.4L134.1 214.5L136.4 214.7L138.6 214.8L140.8 214.9L143.5 210.4L147.2 203.0L151.0 195.4L154.8 190.3L157.4 189.1L159.9 187.8L162.3 188.4L164.7 189.0L167.4 190.9L170.0 192.7L172.7 194.6L174.9 196.0L177.1 197.4L179.4 198.9L181.6 200.3L183.7 202.4L185.9 204.6L188.0 206.7L190.3 206.8L192.7 206.9L195.0 207.0L197.3 207.1L199.7 207.2L202.0 207.3L204.1 205.4L206.2 203.5L208.3 201.6L210.6 200.8L212.9 200.1L215.2 199.3L217.5 198.6L219.8 197.8L222.4 197.5L224.9 197.2L227.4 196.8L230.0 196.5L232.3 196.5L234.6 196.4L236.8 196.4L239.1 196.3L241.4 196.3L243.7 196.2L246.0 196.2L248.2 196.1L250.5 196.1L252.8 196.0L255.1 196.0L257.3 195.9L259.6 195.9L261.9 195.8L264.2 195.8L266.5 195.7L268.7 195.7L271.0 195.6L273.3 195.6L275.4 195.1L277.6 194.5L279.7 194.0L281.8 193.5L284.0 192.9L286.1 192.4L288.3 192.2L290.6 191.9L292.8 191.7L295.0 191.4L297.2 191.2L299.5 191.0L301.7 190.7L303.9 190.5L306.2 190.3L308.4 190.1L310.6 189.8L312.9 189.6L315.1 189.4L317.3 189.2L319.6 188.9L321.8 188.7L323.9 188.5L325.9 188.2L327.9 188.0L330.0 187.7L332.2 187.1L334.4 186.5L336.5 186.0L338.7 185.4L340.9 184.8L343.3 184.2L345.7 183.6L348.1 183.1L350.6 182.5L353.0 181.9L355.4 181.3L357.7 180.7L360.1 180.0L362.4 179.4L364.8 178.8L367.1 178.1L369.4 177.5L371.8 176.8L374.1 176.2L376.4 175.8L378.7 175.5L381.0 175.1L383.3 174.8L385.6 174.4L388.0 174.1L390.3 173.7L392.6 173.4L394.9 173.0L397.2 172.7L399.5 172.3L401.7 171.8L403.9 171.2L406.1 170.7L408.4 170.2L410.6 169.7L412.8 169.1L415.0 168.6L417.1 168.1L419.2 167.5L421.4 167.0L423.5 166.5L425.6 165.9L427.7 165.4L429.9 165.2L432.1 165.0L434.2 164.8L436.4 164.6L438.6 164.4L440.8 164.2L442.9 164.0L445.1 163.8L446.3 289.2L447.2 289.2L449.5 289.2L451.8 289.2L454.1 289.2L456.4 289.2L458.7 289.2L461.0 289.2L463.3 289.2L465.6 289.2L467.9 289.2L470.2 289.2L472.5 289.2L474.7 289.2L477.0 289.2L479.3 289.2L481.6 289.2L483.9 289.2L486.2 289.2L488.5 289.2L490.8 289.2L493.1 289.2L495.4 289.2L497.7 289.2L500.0 289.2" fill="none" stroke="#1A6FDF" stroke-width="1.3" stroke-linejoin="round"/>
<path d="M42.8 286.3L45.4 291.4L40.1 291.4Z" fill="#1A6FDF"/><path d="M45.1 286.3L47.7 291.4L42.4 291.4Z" fill="#1A6FDF"/><path d="M47.4 286.3L50.0 291.4L44.7 291.4Z" fill="#1A6FDF"/><path d="M49.7 286.3L52.3 291.4L47.0 291.4Z" fill="#1A6FDF"/><path d="M52.0 286.3L54.6 291.4L49.3 291.4Z" fill="#1A6FDF"/><path d="M54.3 286.3L56.9 291.4L51.6 291.4Z" fill="#1A6FDF"/><path d="M56.6 286.3L59.2 291.4L53.9 291.4Z" fill="#1A6FDF"/><path d="M58.9 286.3L61.5 291.4L56.2 291.4Z" fill="#1A6FDF"/><path d="M61.2 286.3L63.8 291.4L58.5 291.4Z" fill="#1A6FDF"/><path d="M63.5 286.3L66.1 291.4L60.8 291.4Z" fill="#1A6FDF"/><path d="M65.8 286.3L68.4 291.4L63.1 291.4Z" fill="#1A6FDF"/><path d="M68.1 286.3L70.7 291.4L65.4 291.4Z" fill="#1A6FDF"/><path d="M70.4 286.3L73.0 291.4L67.7 291.4Z" fill="#1A6FDF"/><path d="M72.6 286.3L75.3 291.4L70.0 291.4Z" fill="#1A6FDF"/><path d="M74.9 286.3L77.6 291.4L72.3 291.4Z" fill="#1A6FDF"/><path d="M77.2 286.3L79.9 291.4L74.6 291.4Z" fill="#1A6FDF"/><path d="M79.5 286.3L82.2 291.4L76.9 291.4Z" fill="#1A6FDF"/><path d="M81.8 286.3L84.5 291.4L79.2 291.4Z" fill="#1A6FDF"/><path d="M84.1 286.3L86.8 291.4L81.5 291.4Z" fill="#1A6FDF"/><path d="M86.4 286.3L89.1 291.4L83.8 291.4Z" fill="#1A6FDF"/><path d="M88.7 286.3L91.4 291.4L86.1 291.4Z" fill="#1A6FDF"/><path d="M91.0 286.3L93.7 291.4L88.4 291.4Z" fill="#1A6FDF"/><path d="M93.3 286.3L96.0 291.4L90.7 291.4Z" fill="#1A6FDF"/><path d="M95.6 286.3L98.3 291.4L93.0 291.4Z" fill="#1A6FDF"/><path d="M97.9 286.3L100.6 291.4L95.3 291.4Z" fill="#1A6FDF"/><path d="M100.1 163.2L102.8 168.2L97.4 168.2Z" fill="#1A6FDF"/><path d="M102.4 163.2L105.1 168.2L99.8 168.2Z" fill="#1A6FDF"/><path d="M104.6 163.2L107.2 168.2L101.9 168.2Z" fill="#1A6FDF"/><path d="M106.7 181.0L109.4 186.0L104.0 186.0Z" fill="#1A6FDF"/><path d="M110.0 186.1L112.7 191.1L107.3 191.1Z" fill="#1A6FDF"/><path d="M113.8 189.9L116.5 194.9L111.1 194.9Z" fill="#1A6FDF"/><path d="M117.0 198.5L119.7 203.5L114.3 203.5Z" fill="#1A6FDF"/><path d="M119.3 203.4L122.0 208.5L116.7 208.5Z" fill="#1A6FDF"/><path d="M121.7 208.4L124.4 213.4L119.0 213.4Z" fill="#1A6FDF"/><path d="M124.2 209.2L126.9 214.2L121.6 214.2Z" fill="#1A6FDF"/><path d="M126.8 209.9L129.5 215.0L124.2 215.0Z" fill="#1A6FDF"/><path d="M129.3 210.7L132.0 215.7L126.7 215.7Z" fill="#1A6FDF"/><path d="M131.9 211.5L134.6 216.5L129.2 216.5Z" fill="#1A6FDF"/><path d="M134.1 211.6L136.8 216.6L131.5 216.6Z" fill="#1A6FDF"/><path d="M136.4 211.7L139.0 216.8L133.7 216.8Z" fill="#1A6FDF"/><path d="M138.6 211.9L141.2 216.9L135.9 216.9Z" fill="#1A6FDF"/><path d="M140.8 212.0L143.5 217.0L138.2 217.0Z" fill="#1A6FDF"/><path d="M143.5 207.5L146.2 212.5L140.8 212.5Z" fill="#1A6FDF"/><path d="M147.2 200.1L149.8 205.1L144.5 205.1Z" fill="#1A6FDF"/><path d="M151.0 192.5L153.7 197.5L148.3 197.5Z" fill="#1A6FDF"/><path d="M154.8 187.4L157.5 192.4L152.2 192.4Z" fill="#1A6FDF"/><path d="M157.4 186.1L160.0 191.2L154.7 191.2Z" fill="#1A6FDF"/><path d="M159.9 184.9L162.6 189.9L157.2 189.9Z" fill="#1A6FDF"/><path d="M162.3 185.5L165.0 190.5L159.7 190.5Z" fill="#1A6FDF"/><path d="M164.7 186.1L167.3 191.1L162.0 191.1Z" fill="#1A6FDF"/><path d="M167.4 188.0L170.0 193.0L164.7 193.0Z" fill="#1A6FDF"/><path d="M170.0 189.8L172.7 194.9L167.4 194.9Z" fill="#1A6FDF"/><path d="M172.7 191.7L175.3 196.7L170.0 196.7Z" fill="#1A6FDF"/><path d="M174.9 193.1L177.6 198.1L172.3 198.1Z" fill="#1A6FDF"/><path d="M177.1 194.5L179.8 199.6L174.5 199.6Z" fill="#1A6FDF"/><path d="M179.4 196.0L182.0 201.0L176.7 201.0Z" fill="#1A6FDF"/><path d="M181.6 197.4L184.2 202.4L178.9 202.4Z" fill="#1A6FDF"/><path d="M183.7 199.5L186.4 204.6L181.1 204.6Z" fill="#1A6FDF"/><path d="M185.9 201.7L188.5 206.7L183.2 206.7Z" fill="#1A6FDF"/><path d="M188.0 203.8L190.7 208.8L185.3 208.8Z" fill="#1A6FDF"/><path d="M190.3 203.9L193.0 208.9L187.7 208.9Z" fill="#1A6FDF"/><path d="M192.7 204.0L195.3 209.0L190.0 209.0Z" fill="#1A6FDF"/><path d="M195.0 204.1L197.7 209.1L192.3 209.1Z" fill="#1A6FDF"/><path d="M197.3 204.2L200.0 209.2L194.7 209.2Z" fill="#1A6FDF"/><path d="M199.7 204.3L202.3 209.3L197.0 209.3Z" fill="#1A6FDF"/><path d="M202.0 204.4L204.7 209.4L199.3 209.4Z" fill="#1A6FDF"/><path d="M204.1 202.5L206.8 207.5L201.4 207.5Z" fill="#1A6FDF"/><path d="M206.2 200.6L208.9 205.6L203.6 205.6Z" fill="#1A6FDF"/><path d="M208.3 198.7L211.0 203.7L205.7 203.7Z" fill="#1A6FDF"/><path d="M210.6 197.9L213.3 203.0L208.0 203.0Z" fill="#1A6FDF"/><path d="M212.9 197.2L215.6 202.2L210.2 202.2Z" fill="#1A6FDF"/><path d="M215.2 196.4L217.9 201.4L212.6 201.4Z" fill="#1A6FDF"/><path d="M217.5 195.6L220.2 200.7L214.8 200.7Z" fill="#1A6FDF"/><path d="M219.8 194.9L222.5 199.9L217.2 199.9Z" fill="#1A6FDF"/><path d="M222.4 194.6L225.0 199.6L219.7 199.6Z" fill="#1A6FDF"/><path d="M224.9 194.2L227.6 199.3L222.2 199.3Z" fill="#1A6FDF"/><path d="M227.4 193.9L230.1 198.9L224.8 198.9Z" fill="#1A6FDF"/><path d="M230.0 193.6L232.7 198.6L227.3 198.6Z" fill="#1A6FDF"/><path d="M232.3 193.5L234.9 198.6L229.6 198.6Z" fill="#1A6FDF"/><path d="M234.6 193.5L237.2 198.5L231.9 198.5Z" fill="#1A6FDF"/><path d="M236.8 193.4L239.5 198.5L234.2 198.5Z" fill="#1A6FDF"/><path d="M239.1 193.4L241.8 198.4L236.5 198.4Z" fill="#1A6FDF"/><path d="M241.4 193.3L244.0 198.4L238.7 198.4Z" fill="#1A6FDF"/><path d="M243.7 193.3L246.3 198.3L241.0 198.3Z" fill="#1A6FDF"/><path d="M246.0 193.3L248.6 198.3L243.3 198.3Z" fill="#1A6FDF"/><path d="M248.2 193.2L250.9 198.2L245.6 198.2Z" fill="#1A6FDF"/><path d="M250.5 193.2L253.2 198.2L247.9 198.2Z" fill="#1A6FDF"/><path d="M252.8 193.1L255.4 198.1L250.1 198.1Z" fill="#1A6FDF"/><path d="M255.1 193.1L257.7 198.1L252.4 198.1Z" fill="#1A6FDF"/><path d="M257.3 193.0L260.0 198.1L254.7 198.1Z" fill="#1A6FDF"/><path d="M259.6 193.0L262.3 198.0L257.0 198.0Z" fill="#1A6FDF"/><path d="M261.9 192.9L264.6 198.0L259.3 198.0Z" fill="#1A6FDF"/><path d="M264.2 192.9L266.8 197.9L261.5 197.9Z" fill="#1A6FDF"/><path d="M266.5 192.8L269.1 197.9L263.8 197.9Z" fill="#1A6FDF"/><path d="M268.7 192.8L271.4 197.8L266.1 197.8Z" fill="#1A6FDF"/><path d="M271.0 192.7L273.7 197.8L268.4 197.8Z" fill="#1A6FDF"/><path d="M273.3 192.7L275.9 197.7L270.7 197.7Z" fill="#1A6FDF"/><path d="M275.4 192.2L278.1 197.2L272.8 197.2Z" fill="#1A6FDF"/><path d="M277.6 191.6L280.2 196.7L274.9 196.7Z" fill="#1A6FDF"/><path d="M279.7 191.1L282.4 196.1L277.1 196.1Z" fill="#1A6FDF"/><path d="M281.8 190.6L284.5 195.6L279.2 195.6Z" fill="#1A6FDF"/><path d="M284.0 190.0L286.6 195.1L281.3 195.1Z" fill="#1A6FDF"/><path d="M286.1 189.5L288.8 194.5L283.5 194.5Z" fill="#1A6FDF"/><path d="M288.3 189.2L291.0 194.3L285.7 194.3Z" fill="#1A6FDF"/><path d="M290.6 189.0L293.2 194.0L287.9 194.0Z" fill="#1A6FDF"/><path d="M292.8 188.7L295.4 193.8L290.1 193.8Z" fill="#1A6FDF"/><path d="M295.0 188.5L297.6 193.5L292.4 193.5Z" fill="#1A6FDF"/><path d="M297.2 188.3L299.9 193.3L294.6 193.3Z" fill="#1A6FDF"/><path d="M299.5 188.0L302.1 193.1L296.8 193.1Z" fill="#1A6FDF"/><path d="M301.7 187.8L304.3 192.8L299.1 192.8Z" fill="#1A6FDF"/><path d="M303.9 187.6L306.6 192.6L301.3 192.6Z" fill="#1A6FDF"/><path d="M306.2 187.4L308.8 192.4L303.5 192.4Z" fill="#1A6FDF"/><path d="M308.4 187.1L311.0 192.2L305.8 192.2Z" fill="#1A6FDF"/><path d="M310.6 186.9L313.3 191.9L308.0 191.9Z" fill="#1A6FDF"/><path d="M312.9 186.7L315.5 191.7L310.2 191.7Z" fill="#1A6FDF"/><path d="M315.1 186.5L317.8 191.5L312.5 191.5Z" fill="#1A6FDF"/><path d="M317.3 186.2L320.0 191.3L314.7 191.3Z" fill="#1A6FDF"/><path d="M319.6 186.0L322.2 191.0L316.9 191.0Z" fill="#1A6FDF"/><path d="M321.8 185.8L324.4 190.8L319.2 190.8Z" fill="#1A6FDF"/><path d="M323.9 185.5L326.5 190.6L321.2 190.6Z" fill="#1A6FDF"/><path d="M325.9 185.3L328.5 190.3L323.2 190.3Z" fill="#1A6FDF"/><path d="M327.9 185.0L330.6 190.1L325.3 190.1Z" fill="#1A6FDF"/><path d="M330.0 184.8L332.6 189.8L327.4 189.8Z" fill="#1A6FDF"/><path d="M332.2 184.2L334.8 189.2L329.5 189.2Z" fill="#1A6FDF"/><path d="M334.4 183.6L337.0 188.7L331.7 188.7Z" fill="#1A6FDF"/><path d="M336.5 183.0L339.2 188.1L333.9 188.1Z" fill="#1A6FDF"/><path d="M338.7 182.5L341.4 187.5L336.1 187.5Z" fill="#1A6FDF"/><path d="M340.9 181.9L343.5 186.9L338.2 186.9Z" fill="#1A6FDF"/><path d="M343.3 181.3L346.0 186.3L340.7 186.3Z" fill="#1A6FDF"/><path d="M345.7 180.7L348.4 185.8L343.1 185.8Z" fill="#1A6FDF"/><path d="M348.1 180.1L350.8 185.2L345.5 185.2Z" fill="#1A6FDF"/><path d="M350.6 179.6L353.2 184.6L347.9 184.6Z" fill="#1A6FDF"/><path d="M353.0 179.0L355.6 184.0L350.3 184.0Z" fill="#1A6FDF"/><path d="M355.4 178.4L358.0 183.4L352.8 183.4Z" fill="#1A6FDF"/><path d="M357.7 177.7L360.4 182.8L355.1 182.8Z" fill="#1A6FDF"/><path d="M360.1 177.1L362.7 182.1L357.4 182.1Z" fill="#1A6FDF"/><path d="M362.4 176.5L365.1 181.5L359.8 181.5Z" fill="#1A6FDF"/><path d="M364.8 175.8L367.4 180.9L362.1 180.9Z" fill="#1A6FDF"/><path d="M367.1 175.2L369.7 180.2L364.4 180.2Z" fill="#1A6FDF"/><path d="M369.4 174.6L372.1 179.6L366.8 179.6Z" fill="#1A6FDF"/><path d="M371.8 173.9L374.4 179.0L369.1 179.0Z" fill="#1A6FDF"/><path d="M374.1 173.3L376.8 178.3L371.5 178.3Z" fill="#1A6FDF"/><path d="M376.4 172.9L379.1 178.0L373.8 178.0Z" fill="#1A6FDF"/><path d="M378.7 172.6L381.4 177.6L376.1 177.6Z" fill="#1A6FDF"/><path d="M381.0 172.2L383.7 177.3L378.4 177.3Z" fill="#1A6FDF"/><path d="M383.3 171.9L386.0 176.9L380.7 176.9Z" fill="#1A6FDF"/><path d="M385.6 171.5L388.3 176.5L383.0 176.5Z" fill="#1A6FDF"/><path d="M388.0 171.2L390.6 176.2L385.3 176.2Z" fill="#1A6FDF"/><path d="M390.3 170.8L392.9 175.8L387.6 175.8Z" fill="#1A6FDF"/><path d="M392.6 170.4L395.2 175.5L389.9 175.5Z" fill="#1A6FDF"/><path d="M394.9 170.1L397.5 175.1L392.2 175.1Z" fill="#1A6FDF"/><path d="M397.2 169.7L399.8 174.8L394.5 174.8Z" fill="#1A6FDF"/><path d="M399.5 169.4L402.1 174.4L396.9 174.4Z" fill="#1A6FDF"/><path d="M401.7 168.9L404.4 173.9L399.1 173.9Z" fill="#1A6FDF"/><path d="M403.9 168.3L406.6 173.4L401.3 173.4Z" fill="#1A6FDF"/><path d="M406.1 167.8L408.8 172.8L403.5 172.8Z" fill="#1A6FDF"/><path d="M408.4 167.3L411.0 172.3L405.7 172.3Z" fill="#1A6FDF"/><path d="M410.6 166.7L413.2 171.8L407.9 171.8Z" fill="#1A6FDF"/><path d="M412.8 166.2L415.4 171.2L410.1 171.2Z" fill="#1A6FDF"/><path d="M415.0 165.7L417.6 170.7L412.4 170.7Z" fill="#1A6FDF"/><path d="M417.1 165.2L419.8 170.2L414.5 170.2Z" fill="#1A6FDF"/><path d="M419.2 164.6L421.9 169.7L416.6 169.7Z" fill="#1A6FDF"/><path d="M421.4 164.1L424.0 169.1L418.7 169.1Z" fill="#1A6FDF"/><path d="M423.5 163.6L426.1 168.6L420.8 168.6Z" fill="#1A6FDF"/><path d="M425.6 163.0L428.2 168.1L422.9 168.1Z" fill="#1A6FDF"/><path d="M427.7 162.5L430.3 167.5L425.1 167.5Z" fill="#1A6FDF"/><path d="M429.9 162.3L432.5 167.3L427.2 167.3Z" fill="#1A6FDF"/><path d="M432.1 162.1L434.7 167.1L429.4 167.1Z" fill="#1A6FDF"/><path d="M434.2 161.9L436.9 166.9L431.6 166.9Z" fill="#1A6FDF"/><path d="M436.4 161.7L439.0 166.7L433.8 166.7Z" fill="#1A6FDF"/><path d="M438.6 161.5L441.2 166.5L435.9 166.5Z" fill="#1A6FDF"/><path d="M440.8 161.3L443.4 166.3L438.1 166.3Z" fill="#1A6FDF"/><path d="M442.9 161.1L445.6 166.1L440.3 166.1Z" fill="#1A6FDF"/><path d="M445.1 160.9L447.8 165.9L442.5 165.9Z" fill="#1A6FDF"/><path d="M446.3 286.3L448.9 291.4L443.7 291.4Z" fill="#1A6FDF"/><path d="M447.2 286.3L449.8 291.4L444.5 291.4Z" fill="#1A6FDF"/><path d="M449.5 286.3L452.1 291.4L446.8 291.4Z" fill="#1A6FDF"/><path d="M451.8 286.3L454.4 291.4L449.1 291.4Z" fill="#1A6FDF"/><path d="M454.1 286.3L456.7 291.4L451.4 291.4Z" fill="#1A6FDF"/><path d="M456.4 286.3L459.0 291.4L453.7 291.4Z" fill="#1A6FDF"/><path d="M458.7 286.3L461.3 291.4L456.0 291.4Z" fill="#1A6FDF"/><path d="M461.0 286.3L463.6 291.4L458.3 291.4Z" fill="#1A6FDF"/><path d="M463.3 286.3L465.9 291.4L460.6 291.4Z" fill="#1A6FDF"/><path d="M465.6 286.3L468.2 291.4L462.9 291.4Z" fill="#1A6FDF"/><path d="M467.9 286.3L470.5 291.4L465.2 291.4Z" fill="#1A6FDF"/><path d="M470.2 286.3L472.8 291.4L467.5 291.4Z" fill="#1A6FDF"/><path d="M472.5 286.3L475.1 291.4L469.8 291.4Z" fill="#1A6FDF"/><path d="M474.7 286.3L477.4 291.4L472.1 291.4Z" fill="#1A6FDF"/><path d="M477.0 286.3L479.7 291.4L474.4 291.4Z" fill="#1A6FDF"/><path d="M479.3 286.3L482.0 291.4L476.7 291.4Z" fill="#1A6FDF"/><path d="M481.6 286.3L484.3 291.4L479.0 291.4Z" fill="#1A6FDF"/><path d="M483.9 286.3L486.6 291.4L481.3 291.4Z" fill="#1A6FDF"/><path d="M486.2 286.3L488.9 291.4L483.6 291.4Z" fill="#1A6FDF"/><path d="M488.5 286.3L491.2 291.4L485.9 291.4Z" fill="#1A6FDF"/><path d="M490.8 286.3L493.5 291.4L488.2 291.4Z" fill="#1A6FDF"/><path d="M493.1 286.3L495.8 291.4L490.5 291.4Z" fill="#1A6FDF"/><path d="M495.4 286.3L498.1 291.4L492.8 291.4Z" fill="#1A6FDF"/><path d="M497.7 286.3L500.4 291.4L495.1 291.4Z" fill="#1A6FDF"/><path d="M500.0 286.3L502.7 291.4L497.4 291.4Z" fill="#1A6FDF"/>
</g>
<g clip-path="url(#pc)"><path d="M42.8 289.2L45.1 289.2L47.4 289.2L49.7 289.2L52.0 289.2L54.3 289.2L56.6 289.2L58.9 289.2L61.2 289.2L63.5 289.2L65.8 289.2L68.1 289.2L70.4 289.2L72.6 289.2L74.9 289.2L77.2 289.2L79.5 289.2L81.8 289.2L84.1 289.2L86.4 289.2L88.7 289.2L91.0 289.2L93.3 289.2L95.6 289.2L97.9 289.2L100.1 187.1L102.4 187.1L104.7 187.1L107.0 187.1L109.0 196.4L111.5 204.9L114.0 206.5L116.6 208.1L119.2 208.1L121.7 208.1L124.3 208.1L126.9 209.5L129.4 211.0L132.0 212.4L134.5 211.4L137.0 210.4L139.5 209.4L141.7 208.7L143.8 208.1L146.0 207.4L148.5 206.6L151.0 205.7L153.5 204.9L155.7 205.4L158.0 205.9L160.2 206.4L162.5 206.9L164.7 207.4L167.0 208.6L169.2 209.9L171.5 211.1L173.8 211.6L176.1 212.1L178.3 212.7L180.6 213.2L182.9 213.7L185.4 214.7L188.0 215.8L190.5 216.8L192.8 216.7L195.1 216.6L197.5 216.5L199.8 216.4L202.1 216.2L204.4 216.1L206.8 216.0L209.1 215.9L211.4 215.8L213.7 215.7L216.1 215.6L218.4 215.5L220.7 215.3L223.0 215.2L225.4 215.1L227.7 215.0L230.0 214.9L232.3 214.8L234.6 214.7L236.9 214.6L239.2 214.6L241.5 214.5L243.8 214.4L246.1 214.3L248.4 214.2L250.7 214.1L252.9 214.1L255.2 214.0L257.5 213.9L259.8 213.8L262.1 213.7L264.4 213.6L266.7 213.5L269.0 213.5L271.3 213.4L273.6 213.3L275.9 213.2L278.4 212.4L281.0 211.5L283.5 210.7L285.8 210.5L288.1 210.4L290.4 210.2L292.7 210.1L295.0 209.9L297.2 209.7L299.5 209.5L301.7 209.4L303.9 209.2L306.2 209.0L308.4 208.8L310.6 208.6L312.9 208.4L315.1 208.2L317.3 208.1L319.6 207.9L321.8 207.7L324.2 207.3L326.6 206.9L329.0 206.5L331.4 206.2L333.7 205.8L336.1 205.4L338.5 205.0L340.9 204.6L343.2 204.1L345.6 203.6L347.9 203.2L350.3 202.7L352.6 202.2L355.0 201.7L357.4 201.0L359.8 200.4L362.2 199.7L364.6 199.1L366.9 198.4L369.3 197.7L371.7 197.1L374.1 196.4L376.4 195.9L378.7 195.4L381.0 194.9L383.3 194.4L385.6 193.9L388.0 193.4L390.3 192.9L392.6 192.4L394.9 191.9L397.2 191.4L399.5 190.9L401.7 190.7L403.9 190.5L406.1 190.3L408.4 190.2L410.6 190.0L412.8 189.8L415.0 189.6L417.1 189.1L419.2 188.6L421.4 188.1L423.5 187.6L425.6 187.1L427.7 186.6L429.9 186.3L432.1 186.0L434.2 185.8L436.4 185.5L438.6 185.2L440.8 185.0L442.9 184.7L445.1 184.4L446.3 289.2L447.2 289.2L449.5 289.2L451.8 289.2L454.1 289.2L456.4 289.2L458.7 289.2L461.0 289.2L463.3 289.2L465.6 289.2L467.9 289.2L470.2 289.2L472.5 289.2L474.7 289.2L477.0 289.2L479.3 289.2L481.6 289.2L483.9 289.2L486.2 289.2L488.5 289.2L490.8 289.2L493.1 289.2L495.4 289.2L497.7 289.2L500.0 289.2" fill="none" stroke="#37AD6B" stroke-width="1.3" stroke-linejoin="round"/>
<path d="M42.8 292.2L45.4 287.1L40.1 287.1Z" fill="#37AD6B"/><path d="M45.1 292.2L47.7 287.1L42.4 287.1Z" fill="#37AD6B"/><path d="M47.4 292.2L50.0 287.1L44.7 287.1Z" fill="#37AD6B"/><path d="M49.7 292.2L52.3 287.1L47.0 287.1Z" fill="#37AD6B"/><path d="M52.0 292.2L54.6 287.1L49.3 287.1Z" fill="#37AD6B"/><path d="M54.3 292.2L56.9 287.1L51.6 287.1Z" fill="#37AD6B"/><path d="M56.6 292.2L59.2 287.1L53.9 287.1Z" fill="#37AD6B"/><path d="M58.9 292.2L61.5 287.1L56.2 287.1Z" fill="#37AD6B"/><path d="M61.2 292.2L63.8 287.1L58.5 287.1Z" fill="#37AD6B"/><path d="M63.5 292.2L66.1 287.1L60.8 287.1Z" fill="#37AD6B"/><path d="M65.8 292.2L68.4 287.1L63.1 287.1Z" fill="#37AD6B"/><path d="M68.1 292.2L70.7 287.1L65.4 287.1Z" fill="#37AD6B"/><path d="M70.4 292.2L73.0 287.1L67.7 287.1Z" fill="#37AD6B"/><path d="M72.6 292.2L75.3 287.1L70.0 287.1Z" fill="#37AD6B"/><path d="M74.9 292.2L77.6 287.1L72.3 287.1Z" fill="#37AD6B"/><path d="M77.2 292.2L79.9 287.1L74.6 287.1Z" fill="#37AD6B"/><path d="M79.5 292.2L82.2 287.1L76.9 287.1Z" fill="#37AD6B"/><path d="M81.8 292.2L84.5 287.1L79.2 287.1Z" fill="#37AD6B"/><path d="M84.1 292.2L86.8 287.1L81.5 287.1Z" fill="#37AD6B"/><path d="M86.4 292.2L89.1 287.1L83.8 287.1Z" fill="#37AD6B"/><path d="M88.7 292.2L91.4 287.1L86.1 287.1Z" fill="#37AD6B"/><path d="M91.0 292.2L93.7 287.1L88.4 287.1Z" fill="#37AD6B"/><path d="M93.3 292.2L96.0 287.1L90.7 287.1Z" fill="#37AD6B"/><path d="M95.6 292.2L98.3 287.1L93.0 287.1Z" fill="#37AD6B"/><path d="M97.9 292.2L100.6 287.1L95.3 287.1Z" fill="#37AD6B"/><path d="M100.1 190.0L102.8 185.0L97.4 185.0Z" fill="#37AD6B"/><path d="M102.4 190.0L105.0 185.0L99.7 185.0Z" fill="#37AD6B"/><path d="M104.7 190.0L107.4 185.0L102.0 185.0Z" fill="#37AD6B"/><path d="M107.0 190.0L109.7 185.0L104.3 185.0Z" fill="#37AD6B"/><path d="M109.0 199.3L111.7 194.3L106.3 194.3Z" fill="#37AD6B"/><path d="M111.5 207.8L114.2 202.8L108.8 202.8Z" fill="#37AD6B"/><path d="M114.0 209.4L116.7 204.4L111.4 204.4Z" fill="#37AD6B"/><path d="M116.6 211.0L119.2 206.0L113.9 206.0Z" fill="#37AD6B"/><path d="M119.2 211.0L121.8 206.0L116.5 206.0Z" fill="#37AD6B"/><path d="M121.7 211.0L124.4 206.0L119.1 206.0Z" fill="#37AD6B"/><path d="M124.3 211.0L127.0 206.0L121.6 206.0Z" fill="#37AD6B"/><path d="M126.9 212.4L129.5 207.4L124.2 207.4Z" fill="#37AD6B"/><path d="M129.4 213.9L132.1 208.8L126.8 208.8Z" fill="#37AD6B"/><path d="M132.0 215.3L134.7 210.3L129.3 210.3Z" fill="#37AD6B"/><path d="M134.5 214.3L137.2 209.3L131.8 209.3Z" fill="#37AD6B"/><path d="M137.0 213.3L139.7 208.3L134.3 208.3Z" fill="#37AD6B"/><path d="M139.5 212.3L142.2 207.3L136.8 207.3Z" fill="#37AD6B"/><path d="M141.7 211.6L144.3 206.6L139.0 206.6Z" fill="#37AD6B"/><path d="M143.8 211.0L146.5 205.9L141.2 205.9Z" fill="#37AD6B"/><path d="M146.0 210.3L148.7 205.3L143.3 205.3Z" fill="#37AD6B"/><path d="M148.5 209.5L151.2 204.4L145.8 204.4Z" fill="#37AD6B"/><path d="M151.0 208.6L153.7 203.6L148.3 203.6Z" fill="#37AD6B"/><path d="M153.5 207.8L156.2 202.8L150.8 202.8Z" fill="#37AD6B"/><path d="M155.7 208.3L158.4 203.3L153.1 203.3Z" fill="#37AD6B"/><path d="M158.0 208.8L160.6 203.8L155.3 203.8Z" fill="#37AD6B"/><path d="M160.2 209.3L162.9 204.3L157.6 204.3Z" fill="#37AD6B"/><path d="M162.5 209.8L165.1 204.8L159.8 204.8Z" fill="#37AD6B"/><path d="M164.7 210.3L167.3 205.3L162.0 205.3Z" fill="#37AD6B"/><path d="M167.0 211.5L169.6 206.5L164.3 206.5Z" fill="#37AD6B"/><path d="M169.2 212.8L171.9 207.7L166.6 207.7Z" fill="#37AD6B"/><path d="M171.5 214.0L174.2 209.0L168.8 209.0Z" fill="#37AD6B"/><path d="M173.8 214.5L176.4 209.5L171.1 209.5Z" fill="#37AD6B"/><path d="M176.1 215.1L178.7 210.0L173.4 210.0Z" fill="#37AD6B"/><path d="M178.3 215.6L181.0 210.5L175.7 210.5Z" fill="#37AD6B"/><path d="M180.6 216.1L183.3 211.1L178.0 211.1Z" fill="#37AD6B"/><path d="M182.9 216.6L185.6 211.6L180.2 211.6Z" fill="#37AD6B"/><path d="M185.4 217.6L188.1 212.6L182.8 212.6Z" fill="#37AD6B"/><path d="M188.0 218.7L190.6 213.6L185.3 213.6Z" fill="#37AD6B"/><path d="M190.5 219.7L193.2 214.7L187.8 214.7Z" fill="#37AD6B"/><path d="M192.8 219.6L195.5 214.6L190.2 214.6Z" fill="#37AD6B"/><path d="M195.1 219.5L197.8 214.5L192.5 214.5Z" fill="#37AD6B"/><path d="M197.5 219.4L200.1 214.3L194.8 214.3Z" fill="#37AD6B"/><path d="M199.8 219.3L202.4 214.2L197.1 214.2Z" fill="#37AD6B"/><path d="M202.1 219.2L204.8 214.1L199.5 214.1Z" fill="#37AD6B"/><path d="M204.4 219.0L207.1 214.0L201.8 214.0Z" fill="#37AD6B"/><path d="M206.8 218.9L209.4 213.9L204.1 213.9Z" fill="#37AD6B"/><path d="M209.1 218.8L211.7 213.8L206.4 213.8Z" fill="#37AD6B"/><path d="M211.4 218.7L214.1 213.7L208.8 213.7Z" fill="#37AD6B"/><path d="M213.7 218.6L216.4 213.6L211.1 213.6Z" fill="#37AD6B"/><path d="M216.1 218.5L218.7 213.5L213.4 213.5Z" fill="#37AD6B"/><path d="M218.4 218.4L221.0 213.3L215.7 213.3Z" fill="#37AD6B"/><path d="M220.7 218.3L223.4 213.2L218.1 213.2Z" fill="#37AD6B"/><path d="M223.0 218.2L225.7 213.1L220.4 213.1Z" fill="#37AD6B"/><path d="M225.4 218.0L228.0 213.0L222.7 213.0Z" fill="#37AD6B"/><path d="M227.7 217.9L230.3 212.9L225.0 212.9Z" fill="#37AD6B"/><path d="M230.0 217.8L232.7 212.8L227.3 212.8Z" fill="#37AD6B"/><path d="M232.3 217.7L234.9 212.7L229.6 212.7Z" fill="#37AD6B"/><path d="M234.6 217.6L237.2 212.6L231.9 212.6Z" fill="#37AD6B"/><path d="M236.9 217.6L239.5 212.5L234.2 212.5Z" fill="#37AD6B"/><path d="M239.2 217.5L241.8 212.4L236.5 212.4Z" fill="#37AD6B"/><path d="M241.5 217.4L244.1 212.4L238.8 212.4Z" fill="#37AD6B"/><path d="M243.8 217.3L246.4 212.3L241.1 212.3Z" fill="#37AD6B"/><path d="M246.1 217.2L248.7 212.2L243.4 212.2Z" fill="#37AD6B"/><path d="M248.4 217.1L251.0 212.1L245.7 212.1Z" fill="#37AD6B"/><path d="M250.7 217.1L253.3 212.0L248.0 212.0Z" fill="#37AD6B"/><path d="M252.9 217.0L255.6 211.9L250.3 211.9Z" fill="#37AD6B"/><path d="M255.2 216.9L257.9 211.8L252.6 211.8Z" fill="#37AD6B"/><path d="M257.5 216.8L260.2 211.8L254.9 211.8Z" fill="#37AD6B"/><path d="M259.8 216.7L262.5 211.7L257.2 211.7Z" fill="#37AD6B"/><path d="M262.1 216.6L264.8 211.6L259.5 211.6Z" fill="#37AD6B"/><path d="M264.4 216.5L267.1 211.5L261.8 211.5Z" fill="#37AD6B"/><path d="M266.7 216.5L269.4 211.4L264.1 211.4Z" fill="#37AD6B"/><path d="M269.0 216.4L271.7 211.3L266.4 211.3Z" fill="#37AD6B"/><path d="M271.3 216.3L274.0 211.2L268.7 211.2Z" fill="#37AD6B"/><path d="M273.6 216.2L276.3 211.2L271.0 211.2Z" fill="#37AD6B"/><path d="M275.9 216.1L278.5 211.1L273.2 211.1Z" fill="#37AD6B"/><path d="M278.4 215.3L281.1 210.2L275.8 210.2Z" fill="#37AD6B"/><path d="M281.0 214.4L283.6 209.4L278.3 209.4Z" fill="#37AD6B"/><path d="M283.5 213.6L286.1 208.6L280.9 208.6Z" fill="#37AD6B"/><path d="M285.8 213.5L288.4 208.4L283.2 208.4Z" fill="#37AD6B"/><path d="M288.1 213.3L290.8 208.3L285.5 208.3Z" fill="#37AD6B"/><path d="M290.4 213.1L293.0 208.1L287.8 208.1Z" fill="#37AD6B"/><path d="M292.7 213.0L295.3 207.9L290.1 207.9Z" fill="#37AD6B"/><path d="M295.0 212.8L297.6 207.8L292.4 207.8Z" fill="#37AD6B"/><path d="M297.2 212.6L299.9 207.6L294.6 207.6Z" fill="#37AD6B"/><path d="M299.5 212.4L302.1 207.4L296.8 207.4Z" fill="#37AD6B"/><path d="M301.7 212.3L304.3 207.2L299.1 207.2Z" fill="#37AD6B"/><path d="M303.9 212.1L306.6 207.0L301.3 207.0Z" fill="#37AD6B"/><path d="M306.2 211.9L308.8 206.9L303.5 206.9Z" fill="#37AD6B"/><path d="M308.4 211.7L311.0 206.7L305.8 206.7Z" fill="#37AD6B"/><path d="M310.6 211.5L313.3 206.5L308.0 206.5Z" fill="#37AD6B"/><path d="M312.9 211.3L315.5 206.3L310.2 206.3Z" fill="#37AD6B"/><path d="M315.1 211.2L317.8 206.1L312.5 206.1Z" fill="#37AD6B"/><path d="M317.3 211.0L320.0 205.9L314.7 205.9Z" fill="#37AD6B"/><path d="M319.6 210.8L322.2 205.8L316.9 205.8Z" fill="#37AD6B"/><path d="M321.8 210.6L324.4 205.6L319.2 205.6Z" fill="#37AD6B"/><path d="M324.2 210.2L326.8 205.2L321.5 205.2Z" fill="#37AD6B"/><path d="M326.6 209.8L329.2 204.8L323.9 204.8Z" fill="#37AD6B"/><path d="M329.0 209.5L331.6 204.4L326.3 204.4Z" fill="#37AD6B"/><path d="M331.4 209.1L334.0 204.0L328.7 204.0Z" fill="#37AD6B"/><path d="M333.7 208.7L336.4 203.6L331.1 203.6Z" fill="#37AD6B"/><path d="M336.1 208.3L338.8 203.3L333.5 203.3Z" fill="#37AD6B"/><path d="M338.5 207.9L341.2 202.9L335.9 202.9Z" fill="#37AD6B"/><path d="M340.9 207.5L343.5 202.5L338.2 202.5Z" fill="#37AD6B"/><path d="M343.2 207.0L345.9 202.0L340.6 202.0Z" fill="#37AD6B"/><path d="M345.6 206.5L348.2 201.5L342.9 201.5Z" fill="#37AD6B"/><path d="M347.9 206.1L350.6 201.0L345.3 201.0Z" fill="#37AD6B"/><path d="M350.3 205.6L352.9 200.5L347.7 200.5Z" fill="#37AD6B"/><path d="M352.6 205.1L355.3 200.1L350.0 200.1Z" fill="#37AD6B"/><path d="M355.0 204.6L357.6 199.6L352.4 199.6Z" fill="#37AD6B"/><path d="M357.4 204.0L360.0 198.9L354.7 198.9Z" fill="#37AD6B"/><path d="M359.8 203.3L362.4 198.3L357.1 198.3Z" fill="#37AD6B"/><path d="M362.2 202.6L364.8 197.6L359.5 197.6Z" fill="#37AD6B"/><path d="M364.6 202.0L367.2 196.9L361.9 196.9Z" fill="#37AD6B"/><path d="M366.9 201.3L369.6 196.3L364.3 196.3Z" fill="#37AD6B"/><path d="M369.3 200.6L372.0 195.6L366.7 195.6Z" fill="#37AD6B"/><path d="M371.7 200.0L374.4 194.9L369.1 194.9Z" fill="#37AD6B"/><path d="M374.1 199.3L376.8 194.3L371.5 194.3Z" fill="#37AD6B"/><path d="M376.4 198.8L379.1 193.8L373.8 193.8Z" fill="#37AD6B"/><path d="M378.7 198.3L381.4 193.3L376.1 193.3Z" fill="#37AD6B"/><path d="M381.0 197.8L383.7 192.8L378.4 192.8Z" fill="#37AD6B"/><path d="M383.3 197.3L386.0 192.3L380.7 192.3Z" fill="#37AD6B"/><path d="M385.6 196.8L388.3 191.8L383.0 191.8Z" fill="#37AD6B"/><path d="M388.0 196.3L390.6 191.3L385.3 191.3Z" fill="#37AD6B"/><path d="M390.3 195.8L392.9 190.8L387.6 190.8Z" fill="#37AD6B"/><path d="M392.6 195.3L395.2 190.3L389.9 190.3Z" fill="#37AD6B"/><path d="M394.9 194.8L397.5 189.8L392.2 189.8Z" fill="#37AD6B"/><path d="M397.2 194.3L399.8 189.3L394.5 189.3Z" fill="#37AD6B"/><path d="M399.5 193.8L402.1 188.8L396.9 188.8Z" fill="#37AD6B"/><path d="M401.7 193.6L404.4 188.6L399.1 188.6Z" fill="#37AD6B"/><path d="M403.9 193.4L406.6 188.4L401.3 188.4Z" fill="#37AD6B"/><path d="M406.1 193.3L408.8 188.2L403.5 188.2Z" fill="#37AD6B"/><path d="M408.4 193.1L411.0 188.0L405.7 188.0Z" fill="#37AD6B"/><path d="M410.6 192.9L413.2 187.9L407.9 187.9Z" fill="#37AD6B"/><path d="M412.8 192.7L415.4 187.7L410.1 187.7Z" fill="#37AD6B"/><path d="M415.0 192.5L417.6 187.5L412.4 187.5Z" fill="#37AD6B"/><path d="M417.1 192.0L419.8 187.0L414.5 187.0Z" fill="#37AD6B"/><path d="M419.2 191.5L421.9 186.5L416.6 186.5Z" fill="#37AD6B"/><path d="M421.4 191.0L424.0 186.0L418.7 186.0Z" fill="#37AD6B"/><path d="M423.5 190.5L426.1 185.5L420.8 185.5Z" fill="#37AD6B"/><path d="M425.6 190.0L428.2 185.0L422.9 185.0Z" fill="#37AD6B"/><path d="M427.7 189.5L430.3 184.5L425.1 184.5Z" fill="#37AD6B"/><path d="M429.9 189.2L432.5 184.2L427.2 184.2Z" fill="#37AD6B"/><path d="M432.1 189.0L434.7 183.9L429.4 183.9Z" fill="#37AD6B"/><path d="M434.2 188.7L436.9 183.7L431.6 183.7Z" fill="#37AD6B"/><path d="M436.4 188.4L439.0 183.4L433.8 183.4Z" fill="#37AD6B"/><path d="M438.6 188.1L441.2 183.1L435.9 183.1Z" fill="#37AD6B"/><path d="M440.8 187.9L443.4 182.8L438.1 182.8Z" fill="#37AD6B"/><path d="M442.9 187.6L445.6 182.6L440.3 182.6Z" fill="#37AD6B"/><path d="M445.1 187.3L447.8 182.3L442.5 182.3Z" fill="#37AD6B"/><path d="M446.3 292.2L448.9 287.1L443.7 287.1Z" fill="#37AD6B"/><path d="M447.2 292.2L449.8 287.1L444.5 287.1Z" fill="#37AD6B"/><path d="M449.5 292.2L452.1 287.1L446.8 287.1Z" fill="#37AD6B"/><path d="M451.8 292.2L454.4 287.1L449.1 287.1Z" fill="#37AD6B"/><path d="M454.1 292.2L456.7 287.1L451.4 287.1Z" fill="#37AD6B"/><path d="M456.4 292.2L459.0 287.1L453.7 287.1Z" fill="#37AD6B"/><path d="M458.7 292.2L461.3 287.1L456.0 287.1Z" fill="#37AD6B"/><path d="M461.0 292.2L463.6 287.1L458.3 287.1Z" fill="#37AD6B"/><path d="M463.3 292.2L465.9 287.1L460.6 287.1Z" fill="#37AD6B"/><path d="M465.6 292.2L468.2 287.1L462.9 287.1Z" fill="#37AD6B"/><path d="M467.9 292.2L470.5 287.1L465.2 287.1Z" fill="#37AD6B"/><path d="M470.2 292.2L472.8 287.1L467.5 287.1Z" fill="#37AD6B"/><path d="M472.5 292.2L475.1 287.1L469.8 287.1Z" fill="#37AD6B"/><path d="M474.7 292.2L477.4 287.1L472.1 287.1Z" fill="#37AD6B"/><path d="M477.0 292.2L479.7 287.1L474.4 287.1Z" fill="#37AD6B"/><path d="M479.3 292.2L482.0 287.1L476.7 287.1Z" fill="#37AD6B"/><path d="M481.6 292.2L484.3 287.1L479.0 287.1Z" fill="#37AD6B"/><path d="M483.9 292.2L486.6 287.1L481.3 287.1Z" fill="#37AD6B"/><path d="M486.2 292.2L488.9 287.1L483.6 287.1Z" fill="#37AD6B"/><path d="M488.5 292.2L491.2 287.1L485.9 287.1Z" fill="#37AD6B"/><path d="M490.8 292.2L493.5 287.1L488.2 287.1Z" fill="#37AD6B"/><path d="M493.1 292.2L495.8 287.1L490.5 287.1Z" fill="#37AD6B"/><path d="M495.4 292.2L498.1 287.1L492.8 287.1Z" fill="#37AD6B"/><path d="M497.7 292.2L500.4 287.1L495.1 287.1Z" fill="#37AD6B"/><path d="M500.0 292.2L502.7 287.1L497.4 287.1Z" fill="#37AD6B"/>
</g>
<g clip-path="url(#pc)"><path d="M42.8 289.2L45.1 289.2L47.4 289.2L49.7 289.2L52.0 289.2L54.3 289.2L56.6 289.2L58.9 289.2L61.2 289.2L63.5 289.2L65.8 289.2L68.1 289.2L70.4 289.2L72.6 289.2L74.9 289.2L77.2 289.2L79.5 289.2L81.8 289.2L84.1 289.2L86.4 289.2L88.7 289.2L91.0 289.2L93.3 289.2L95.6 289.2L97.9 289.2L100.1 200.7L102.4 201.1L104.7 201.4L107.0 201.8L109.3 202.1L111.6 202.5L113.9 202.8L116.2 203.3L118.5 204.0L120.8 204.6L123.1 205.3L125.4 205.9L127.7 206.6L129.9 207.2L132.2 207.9L134.5 208.6L136.8 209.5L139.1 210.5L141.4 211.5L143.7 212.6L146.0 213.6L148.3 214.4L150.6 215.2L152.9 215.9L155.2 216.7L157.5 217.5L159.8 218.3L162.1 219.1L164.4 219.9L166.7 221.1L169.0 222.5L171.3 223.8L173.6 224.8L175.9 225.5L178.2 226.1L180.5 226.8L182.8 227.4L185.1 227.2L187.3 225.5L189.6 224.6L191.9 224.7L194.2 224.7L196.5 224.8L198.8 224.8L201.1 224.8L203.4 224.9L205.7 224.9L208.0 225.0L210.3 225.0L212.6 225.1L214.9 225.1L217.2 225.1L219.5 225.2L221.8 225.2L224.1 225.3L226.4 225.3L228.7 225.2L231.0 225.1L233.3 225.1L235.6 225.0L237.9 225.0L240.2 224.9L242.5 225.3L244.7 225.7L247.0 226.1L249.3 226.2L251.6 226.0L253.9 225.9L256.2 225.7L258.5 225.6L260.8 225.4L263.1 225.3L265.4 225.1L267.7 225.0L270.0 224.8L272.3 224.6L274.6 224.5L276.9 224.3L279.2 224.0L281.5 223.7L283.8 223.5L286.1 223.2L288.4 222.9L290.7 222.6L293.0 222.3L295.3 222.1L297.6 221.8L299.9 221.6L302.1 221.4L304.4 221.1L306.7 220.9L309.0 220.6L311.3 220.4L313.6 220.2L315.9 219.9L318.2 219.7L320.5 219.4L322.8 219.1L325.1 218.8L327.4 218.4L329.7 218.1L332.0 217.7L334.3 217.3L336.6 217.0L338.9 216.6L341.2 216.3L343.5 216.0L345.8 215.8L348.1 215.6L350.4 215.3L352.7 215.1L355.0 214.3L357.3 212.7L359.5 211.1L361.8 210.3L364.1 209.7L366.4 209.2L368.7 208.7L371.0 208.1L373.3 207.6L375.6 207.1L377.9 206.6L380.2 206.1L382.5 205.7L384.8 205.2L387.1 204.7L389.4 204.4L391.7 204.0L394.0 203.6L396.3 203.2L398.6 202.8L400.9 202.4L403.2 202.0L405.5 201.6L407.8 201.6L410.1 201.7L412.4 201.9L414.7 202.0L416.9 201.6L419.2 201.2L421.5 200.8L423.8 200.3L426.1 199.9L428.4 199.6L430.7 199.4L433.0 199.3L435.3 199.2L437.6 199.0L439.9 198.9L442.2 198.8L444.5 198.6L446.3 289.2L447.2 289.2L449.5 289.2L451.8 289.2L454.1 289.2L456.4 289.2L458.7 289.2L461.0 289.2L463.3 289.2L465.6 289.2L467.9 289.2L470.2 289.2L472.5 289.2L474.7 289.2L477.0 289.2L479.3 289.2L481.6 289.2L483.9 289.2L486.2 289.2L488.5 289.2L490.8 289.2L493.1 289.2L495.4 289.2L497.7 289.2L500.0 289.2" fill="none" stroke="#B177DE" stroke-width="1.3" stroke-linejoin="round"/>
<path d="M42.8 286.2L45.4 289.2L42.8 292.3L40.1 289.2Z" fill="#B177DE"/><path d="M45.1 286.2L47.7 289.2L45.1 292.3L42.4 289.2Z" fill="#B177DE"/><path d="M47.4 286.2L50.0 289.2L47.4 292.3L44.7 289.2Z" fill="#B177DE"/><path d="M49.7 286.2L52.3 289.2L49.7 292.3L47.0 289.2Z" fill="#B177DE"/><path d="M52.0 286.2L54.6 289.2L52.0 292.3L49.3 289.2Z" fill="#B177DE"/><path d="M54.3 286.2L56.9 289.2L54.3 292.3L51.6 289.2Z" fill="#B177DE"/><path d="M56.6 286.2L59.2 289.2L56.6 292.3L53.9 289.2Z" fill="#B177DE"/><path d="M58.9 286.2L61.5 289.2L58.9 292.3L56.2 289.2Z" fill="#B177DE"/><path d="M61.2 286.2L63.8 289.2L61.2 292.3L58.5 289.2Z" fill="#B177DE"/><path d="M63.5 286.2L66.1 289.2L63.5 292.3L60.8 289.2Z" fill="#B177DE"/><path d="M65.8 286.2L68.4 289.2L65.8 292.3L63.1 289.2Z" fill="#B177DE"/><path d="M68.1 286.2L70.7 289.2L68.1 292.3L65.4 289.2Z" fill="#B177DE"/><path d="M70.4 286.2L73.0 289.2L70.4 292.3L67.7 289.2Z" fill="#B177DE"/><path d="M72.6 286.2L75.3 289.2L72.6 292.3L70.0 289.2Z" fill="#B177DE"/><path d="M74.9 286.2L77.6 289.2L74.9 292.3L72.3 289.2Z" fill="#B177DE"/><path d="M77.2 286.2L79.9 289.2L77.2 292.3L74.6 289.2Z" fill="#B177DE"/><path d="M79.5 286.2L82.2 289.2L79.5 292.3L76.9 289.2Z" fill="#B177DE"/><path d="M81.8 286.2L84.5 289.2L81.8 292.3L79.2 289.2Z" fill="#B177DE"/><path d="M84.1 286.2L86.8 289.2L84.1 292.3L81.5 289.2Z" fill="#B177DE"/><path d="M86.4 286.2L89.1 289.2L86.4 292.3L83.8 289.2Z" fill="#B177DE"/><path d="M88.7 286.2L91.4 289.2L88.7 292.3L86.1 289.2Z" fill="#B177DE"/><path d="M91.0 286.2L93.7 289.2L91.0 292.3L88.4 289.2Z" fill="#B177DE"/><path d="M93.3 286.2L96.0 289.2L93.3 292.3L90.7 289.2Z" fill="#B177DE"/><path d="M95.6 286.2L98.3 289.2L95.6 292.3L93.0 289.2Z" fill="#B177DE"/><path d="M97.9 286.2L100.6 289.2L97.9 292.3L95.3 289.2Z" fill="#B177DE"/><path d="M100.1 197.7L102.8 200.7L100.1 203.7L97.4 200.7Z" fill="#B177DE"/><path d="M102.4 198.0L105.0 201.1L102.4 204.1L99.7 201.1Z" fill="#B177DE"/><path d="M104.7 198.4L107.3 201.4L104.7 204.5L102.0 201.4Z" fill="#B177DE"/><path d="M107.0 198.7L109.6 201.8L107.0 204.8L104.3 201.8Z" fill="#B177DE"/><path d="M109.3 199.1L111.9 202.1L109.3 205.2L106.6 202.1Z" fill="#B177DE"/><path d="M111.6 199.4L114.2 202.5L111.6 205.5L108.9 202.5Z" fill="#B177DE"/><path d="M113.9 199.8L116.5 202.8L113.9 205.9L111.2 202.8Z" fill="#B177DE"/><path d="M116.2 200.3L118.8 203.3L116.2 206.4L113.5 203.3Z" fill="#B177DE"/><path d="M118.5 200.9L121.1 204.0L118.5 207.0L115.8 204.0Z" fill="#B177DE"/><path d="M120.8 201.6L123.4 204.6L120.8 207.7L118.1 204.6Z" fill="#B177DE"/><path d="M123.1 202.2L125.7 205.3L123.1 208.3L120.4 205.3Z" fill="#B177DE"/><path d="M125.4 202.9L128.0 205.9L125.4 209.0L122.7 205.9Z" fill="#B177DE"/><path d="M127.7 203.5L130.3 206.6L127.7 209.6L125.0 206.6Z" fill="#B177DE"/><path d="M129.9 204.2L132.6 207.2L129.9 210.3L127.3 207.2Z" fill="#B177DE"/><path d="M132.2 204.9L134.9 207.9L132.2 211.0L129.6 207.9Z" fill="#B177DE"/><path d="M134.5 205.5L137.2 208.6L134.5 211.6L131.9 208.6Z" fill="#B177DE"/><path d="M136.8 206.4L139.5 209.5L136.8 212.5L134.2 209.5Z" fill="#B177DE"/><path d="M139.1 207.5L141.8 210.5L139.1 213.5L136.5 210.5Z" fill="#B177DE"/><path d="M141.4 208.5L144.1 211.5L141.4 214.6L138.8 211.5Z" fill="#B177DE"/><path d="M143.7 209.5L146.4 212.6L143.7 215.6L141.1 212.6Z" fill="#B177DE"/><path d="M146.0 210.5L148.7 213.6L146.0 216.6L143.4 213.6Z" fill="#B177DE"/><path d="M148.3 211.3L151.0 214.4L148.3 217.4L145.7 214.4Z" fill="#B177DE"/><path d="M150.6 212.1L153.3 215.2L150.6 218.2L148.0 215.2Z" fill="#B177DE"/><path d="M152.9 212.9L155.6 215.9L152.9 219.0L150.3 215.9Z" fill="#B177DE"/><path d="M155.2 213.7L157.9 216.7L155.2 219.8L152.6 216.7Z" fill="#B177DE"/><path d="M157.5 214.5L160.2 217.5L157.5 220.6L154.9 217.5Z" fill="#B177DE"/><path d="M159.8 215.3L162.4 218.3L159.8 221.4L157.1 218.3Z" fill="#B177DE"/><path d="M162.1 216.1L164.7 219.1L162.1 222.1L159.4 219.1Z" fill="#B177DE"/><path d="M164.4 216.8L167.0 219.9L164.4 222.9L161.7 219.9Z" fill="#B177DE"/><path d="M166.7 218.1L169.3 221.1L166.7 224.2L164.0 221.1Z" fill="#B177DE"/><path d="M169.0 219.4L171.6 222.5L169.0 225.5L166.3 222.5Z" fill="#B177DE"/><path d="M171.3 220.7L173.9 223.8L171.3 226.8L168.6 223.8Z" fill="#B177DE"/><path d="M173.6 221.8L176.2 224.8L173.6 227.9L170.9 224.8Z" fill="#B177DE"/><path d="M175.9 222.4L178.5 225.5L175.9 228.5L173.2 225.5Z" fill="#B177DE"/><path d="M178.2 223.1L180.8 226.1L178.2 229.2L175.5 226.1Z" fill="#B177DE"/><path d="M180.5 223.7L183.1 226.8L180.5 229.8L177.8 226.8Z" fill="#B177DE"/><path d="M182.8 224.4L185.4 227.4L182.8 230.4L180.1 227.4Z" fill="#B177DE"/><path d="M185.1 224.1L187.7 227.2L185.1 230.2L182.4 227.2Z" fill="#B177DE"/><path d="M187.3 222.5L190.0 225.5L187.3 228.6L184.7 225.5Z" fill="#B177DE"/><path d="M189.6 221.6L192.3 224.6L189.6 227.7L187.0 224.6Z" fill="#B177DE"/><path d="M191.9 221.6L194.6 224.7L191.9 227.7L189.3 224.7Z" fill="#B177DE"/><path d="M194.2 221.7L196.9 224.7L194.2 227.8L191.6 224.7Z" fill="#B177DE"/><path d="M196.5 221.7L199.2 224.8L196.5 227.8L193.9 224.8Z" fill="#B177DE"/><path d="M198.8 221.7L201.5 224.8L198.8 227.8L196.2 224.8Z" fill="#B177DE"/><path d="M201.1 221.8L203.8 224.8L201.1 227.9L198.5 224.8Z" fill="#B177DE"/><path d="M203.4 221.8L206.1 224.9L203.4 227.9L200.8 224.9Z" fill="#B177DE"/><path d="M205.7 221.9L208.4 224.9L205.7 228.0L203.1 224.9Z" fill="#B177DE"/><path d="M208.0 221.9L210.7 225.0L208.0 228.0L205.4 225.0Z" fill="#B177DE"/><path d="M210.3 222.0L213.0 225.0L210.3 228.1L207.7 225.0Z" fill="#B177DE"/><path d="M212.6 222.0L215.3 225.1L212.6 228.1L210.0 225.1Z" fill="#B177DE"/><path d="M214.9 222.1L217.6 225.1L214.9 228.2L212.3 225.1Z" fill="#B177DE"/><path d="M217.2 222.1L219.8 225.1L217.2 228.2L214.5 225.1Z" fill="#B177DE"/><path d="M219.5 222.1L222.1 225.2L219.5 228.2L216.8 225.2Z" fill="#B177DE"/><path d="M221.8 222.2L224.4 225.2L221.8 228.3L219.1 225.2Z" fill="#B177DE"/><path d="M224.1 222.2L226.7 225.3L224.1 228.3L221.4 225.3Z" fill="#B177DE"/><path d="M226.4 222.2L229.0 225.3L226.4 228.3L223.7 225.3Z" fill="#B177DE"/><path d="M228.7 222.2L231.3 225.2L228.7 228.3L226.0 225.2Z" fill="#B177DE"/><path d="M231.0 222.1L233.6 225.1L231.0 228.2L228.3 225.1Z" fill="#B177DE"/><path d="M233.3 222.0L235.9 225.1L233.3 228.1L230.6 225.1Z" fill="#B177DE"/><path d="M235.6 222.0L238.2 225.0L235.6 228.1L232.9 225.0Z" fill="#B177DE"/><path d="M237.9 221.9L240.5 225.0L237.9 228.0L235.2 225.0Z" fill="#B177DE"/><path d="M240.2 221.9L242.8 224.9L240.2 228.0L237.5 224.9Z" fill="#B177DE"/><path d="M242.5 222.2L245.1 225.3L242.5 228.3L239.8 225.3Z" fill="#B177DE"/><path d="M244.7 222.7L247.4 225.7L244.7 228.8L242.1 225.7Z" fill="#B177DE"/><path d="M247.0 223.1L249.7 226.1L247.0 229.2L244.4 226.1Z" fill="#B177DE"/><path d="M249.3 223.2L252.0 226.2L249.3 229.2L246.7 226.2Z" fill="#B177DE"/><path d="M251.6 223.0L254.3 226.0L251.6 229.1L249.0 226.0Z" fill="#B177DE"/><path d="M253.9 222.8L256.6 225.9L253.9 228.9L251.3 225.9Z" fill="#B177DE"/><path d="M256.2 222.7L258.9 225.7L256.2 228.8L253.6 225.7Z" fill="#B177DE"/><path d="M258.5 222.5L261.2 225.6L258.5 228.6L255.9 225.6Z" fill="#B177DE"/><path d="M260.8 222.4L263.5 225.4L260.8 228.5L258.2 225.4Z" fill="#B177DE"/><path d="M263.1 222.2L265.8 225.3L263.1 228.3L260.5 225.3Z" fill="#B177DE"/><path d="M265.4 222.1L268.1 225.1L265.4 228.2L262.8 225.1Z" fill="#B177DE"/><path d="M267.7 221.9L270.4 225.0L267.7 228.0L265.1 225.0Z" fill="#B177DE"/><path d="M270.0 221.8L272.7 224.8L270.0 227.8L267.4 224.8Z" fill="#B177DE"/><path d="M272.3 221.6L275.0 224.6L272.3 227.7L269.7 224.6Z" fill="#B177DE"/><path d="M274.6 221.4L277.2 224.5L274.6 227.5L271.9 224.5Z" fill="#B177DE"/><path d="M276.9 221.2L279.5 224.3L276.9 227.3L274.2 224.3Z" fill="#B177DE"/><path d="M279.2 221.0L281.8 224.0L279.2 227.1L276.5 224.0Z" fill="#B177DE"/><path d="M281.5 220.7L284.1 223.7L281.5 226.8L278.8 223.7Z" fill="#B177DE"/><path d="M283.8 220.4L286.4 223.5L283.8 226.5L281.1 223.5Z" fill="#B177DE"/><path d="M286.1 220.1L288.7 223.2L286.1 226.2L283.4 223.2Z" fill="#B177DE"/><path d="M288.4 219.9L291.0 222.9L288.4 225.9L285.7 222.9Z" fill="#B177DE"/><path d="M290.7 219.6L293.3 222.6L290.7 225.7L288.0 222.6Z" fill="#B177DE"/><path d="M293.0 219.3L295.6 222.3L293.0 225.4L290.3 222.3Z" fill="#B177DE"/><path d="M295.3 219.0L297.9 222.1L295.3 225.1L292.6 222.1Z" fill="#B177DE"/><path d="M297.6 218.8L300.2 221.8L297.6 224.9L294.9 221.8Z" fill="#B177DE"/><path d="M299.9 218.5L302.5 221.6L299.9 224.6L297.2 221.6Z" fill="#B177DE"/><path d="M302.1 218.3L304.8 221.4L302.1 224.4L299.5 221.4Z" fill="#B177DE"/><path d="M304.4 218.1L307.1 221.1L304.4 224.2L301.8 221.1Z" fill="#B177DE"/><path d="M306.7 217.8L309.4 220.9L306.7 223.9L304.1 220.9Z" fill="#B177DE"/><path d="M309.0 217.6L311.7 220.6L309.0 223.7L306.4 220.6Z" fill="#B177DE"/><path d="M311.3 217.3L314.0 220.4L311.3 223.4L308.7 220.4Z" fill="#B177DE"/><path d="M313.6 217.1L316.3 220.2L313.6 223.2L311.0 220.2Z" fill="#B177DE"/><path d="M315.9 216.9L318.6 219.9L315.9 223.0L313.3 219.9Z" fill="#B177DE"/><path d="M318.2 216.6L320.9 219.7L318.2 222.7L315.6 219.7Z" fill="#B177DE"/><path d="M320.5 216.4L323.2 219.4L320.5 222.5L317.9 219.4Z" fill="#B177DE"/><path d="M322.8 216.1L325.5 219.1L322.8 222.2L320.2 219.1Z" fill="#B177DE"/><path d="M325.1 215.7L327.8 218.8L325.1 221.8L322.5 218.8Z" fill="#B177DE"/><path d="M327.4 215.4L330.1 218.4L327.4 221.5L324.8 218.4Z" fill="#B177DE"/><path d="M329.7 215.0L332.4 218.1L329.7 221.1L327.1 218.1Z" fill="#B177DE"/><path d="M332.0 214.7L334.6 217.7L332.0 220.7L329.3 217.7Z" fill="#B177DE"/><path d="M334.3 214.3L336.9 217.3L334.3 220.4L331.6 217.3Z" fill="#B177DE"/><path d="M336.6 213.9L339.2 217.0L336.6 220.0L333.9 217.0Z" fill="#B177DE"/><path d="M338.9 213.6L341.5 216.6L338.9 219.7L336.2 216.6Z" fill="#B177DE"/><path d="M341.2 213.2L343.8 216.3L341.2 219.3L338.5 216.3Z" fill="#B177DE"/><path d="M343.5 213.0L346.1 216.0L343.5 219.1L340.8 216.0Z" fill="#B177DE"/><path d="M345.8 212.8L348.4 215.8L345.8 218.8L343.1 215.8Z" fill="#B177DE"/><path d="M348.1 212.5L350.7 215.6L348.1 218.6L345.4 215.6Z" fill="#B177DE"/><path d="M350.4 212.3L353.0 215.3L350.4 218.4L347.7 215.3Z" fill="#B177DE"/><path d="M352.7 212.0L355.3 215.1L352.7 218.1L350.0 215.1Z" fill="#B177DE"/><path d="M355.0 211.2L357.6 214.3L355.0 217.3L352.3 214.3Z" fill="#B177DE"/><path d="M357.3 209.7L359.9 212.7L357.3 215.8L354.6 212.7Z" fill="#B177DE"/><path d="M359.5 208.0L362.2 211.1L359.5 214.1L356.9 211.1Z" fill="#B177DE"/><path d="M361.8 207.2L364.5 210.3L361.8 213.3L359.2 210.3Z" fill="#B177DE"/><path d="M364.1 206.7L366.8 209.7L364.1 212.8L361.5 209.7Z" fill="#B177DE"/><path d="M366.4 206.2L369.1 209.2L366.4 212.2L363.8 209.2Z" fill="#B177DE"/><path d="M368.7 205.6L371.4 208.7L368.7 211.7L366.1 208.7Z" fill="#B177DE"/><path d="M371.0 205.1L373.7 208.1L371.0 211.2L368.4 208.1Z" fill="#B177DE"/><path d="M373.3 204.5L376.0 207.6L373.3 210.6L370.7 207.6Z" fill="#B177DE"/><path d="M375.6 204.0L378.3 207.1L375.6 210.1L373.0 207.1Z" fill="#B177DE"/><path d="M377.9 203.6L380.6 206.6L377.9 209.7L375.3 206.6Z" fill="#B177DE"/><path d="M380.2 203.1L382.9 206.1L380.2 209.2L377.6 206.1Z" fill="#B177DE"/><path d="M382.5 202.6L385.2 205.7L382.5 208.7L379.9 205.7Z" fill="#B177DE"/><path d="M384.8 202.2L387.5 205.2L384.8 208.3L382.2 205.2Z" fill="#B177DE"/><path d="M387.1 201.7L389.8 204.7L387.1 207.8L384.5 204.7Z" fill="#B177DE"/><path d="M389.4 201.3L392.0 204.4L389.4 207.4L386.7 204.4Z" fill="#B177DE"/><path d="M391.7 200.9L394.3 204.0L391.7 207.0L389.0 204.0Z" fill="#B177DE"/><path d="M394.0 200.5L396.6 203.6L394.0 206.6L391.3 203.6Z" fill="#B177DE"/><path d="M396.3 200.1L398.9 203.2L396.3 206.2L393.6 203.2Z" fill="#B177DE"/><path d="M398.6 199.7L401.2 202.8L398.6 205.8L395.9 202.8Z" fill="#B177DE"/><path d="M400.9 199.3L403.5 202.4L400.9 205.4L398.2 202.4Z" fill="#B177DE"/><path d="M403.2 198.9L405.8 202.0L403.2 205.0L400.5 202.0Z" fill="#B177DE"/><path d="M405.5 198.5L408.1 201.6L405.5 204.6L402.8 201.6Z" fill="#B177DE"/><path d="M407.8 198.6L410.4 201.6L407.8 204.6L405.1 201.6Z" fill="#B177DE"/><path d="M410.1 198.7L412.7 201.7L410.1 204.8L407.4 201.7Z" fill="#B177DE"/><path d="M412.4 198.8L415.0 201.9L412.4 204.9L409.7 201.9Z" fill="#B177DE"/><path d="M414.7 198.9L417.3 202.0L414.7 205.0L412.0 202.0Z" fill="#B177DE"/><path d="M416.9 198.6L419.6 201.6L416.9 204.7L414.3 201.6Z" fill="#B177DE"/><path d="M419.2 198.2L421.9 201.2L419.2 204.2L416.6 201.2Z" fill="#B177DE"/><path d="M421.5 197.7L424.2 200.8L421.5 203.8L418.9 200.8Z" fill="#B177DE"/><path d="M423.8 197.3L426.5 200.3L423.8 203.4L421.2 200.3Z" fill="#B177DE"/><path d="M426.1 196.8L428.8 199.9L426.1 202.9L423.5 199.9Z" fill="#B177DE"/><path d="M428.4 196.5L431.1 199.6L428.4 202.6L425.8 199.6Z" fill="#B177DE"/><path d="M430.7 196.4L433.4 199.4L430.7 202.5L428.1 199.4Z" fill="#B177DE"/><path d="M433.0 196.2L435.7 199.3L433.0 202.3L430.4 199.3Z" fill="#B177DE"/><path d="M435.3 196.1L438.0 199.2L435.3 202.2L432.7 199.2Z" fill="#B177DE"/><path d="M437.6 196.0L440.3 199.0L437.6 202.1L435.0 199.0Z" fill="#B177DE"/><path d="M439.9 195.9L442.6 198.9L439.9 201.9L437.3 198.9Z" fill="#B177DE"/><path d="M442.2 195.7L444.9 198.8L442.2 201.8L439.6 198.8Z" fill="#B177DE"/><path d="M444.5 195.6L447.2 198.6L444.5 201.7L441.9 198.6Z" fill="#B177DE"/><path d="M446.3 286.2L448.9 289.2L446.3 292.3L443.7 289.2Z" fill="#B177DE"/><path d="M447.2 286.2L449.8 289.2L447.2 292.3L444.5 289.2Z" fill="#B177DE"/><path d="M449.5 286.2L452.1 289.2L449.5 292.3L446.8 289.2Z" fill="#B177DE"/><path d="M451.8 286.2L454.4 289.2L451.8 292.3L449.1 289.2Z" fill="#B177DE"/><path d="M454.1 286.2L456.7 289.2L454.1 292.3L451.4 289.2Z" fill="#B177DE"/><path d="M456.4 286.2L459.0 289.2L456.4 292.3L453.7 289.2Z" fill="#B177DE"/><path d="M458.7 286.2L461.3 289.2L458.7 292.3L456.0 289.2Z" fill="#B177DE"/><path d="M461.0 286.2L463.6 289.2L461.0 292.3L458.3 289.2Z" fill="#B177DE"/><path d="M463.3 286.2L465.9 289.2L463.3 292.3L460.6 289.2Z" fill="#B177DE"/><path d="M465.6 286.2L468.2 289.2L465.6 292.3L462.9 289.2Z" fill="#B177DE"/><path d="M467.9 286.2L470.5 289.2L467.9 292.3L465.2 289.2Z" fill="#B177DE"/><path d="M470.2 286.2L472.8 289.2L470.2 292.3L467.5 289.2Z" fill="#B177DE"/><path d="M472.5 286.2L475.1 289.2L472.5 292.3L469.8 289.2Z" fill="#B177DE"/><path d="M474.7 286.2L477.4 289.2L474.7 292.3L472.1 289.2Z" fill="#B177DE"/><path d="M477.0 286.2L479.7 289.2L477.0 292.3L474.4 289.2Z" fill="#B177DE"/><path d="M479.3 286.2L482.0 289.2L479.3 292.3L476.7 289.2Z" fill="#B177DE"/><path d="M481.6 286.2L484.3 289.2L481.6 292.3L479.0 289.2Z" fill="#B177DE"/><path d="M483.9 286.2L486.6 289.2L483.9 292.3L481.3 289.2Z" fill="#B177DE"/><path d="M486.2 286.2L488.9 289.2L486.2 292.3L483.6 289.2Z" fill="#B177DE"/><path d="M488.5 286.2L491.2 289.2L488.5 292.3L485.9 289.2Z" fill="#B177DE"/><path d="M490.8 286.2L493.5 289.2L490.8 292.3L488.2 289.2Z" fill="#B177DE"/><path d="M493.1 286.2L495.8 289.2L493.1 292.3L490.5 289.2Z" fill="#B177DE"/><path d="M495.4 286.2L498.1 289.2L495.4 292.3L492.8 289.2Z" fill="#B177DE"/><path d="M497.7 286.2L500.4 289.2L497.7 292.3L495.1 289.2Z" fill="#B177DE"/><path d="M500.0 286.2L502.7 289.2L500.0 292.3L497.4 289.2Z" fill="#B177DE"/>
</g>
<g clip-path="url(#pc)"><path d="M42.8 289.2L45.1 289.2L47.4 289.2L49.7 289.2L52.0 289.2L54.3 289.2L56.6 289.2L58.9 289.2L61.2 289.2L63.5 289.2L65.8 289.2L68.1 289.2L70.4 289.2L72.6 289.2L74.9 289.2L77.2 289.2L79.5 289.2L81.8 289.2L84.1 289.2L86.4 289.2L88.7 289.2L91.0 289.2L93.3 289.2L95.6 289.2L97.9 289.2L100.1 211.3L102.4 211.7L104.7 212.1L107.0 212.5L109.3 212.8L111.6 213.2L113.9 213.6L116.2 214.0L118.5 214.4L120.8 214.8L123.1 215.2L125.4 215.6L127.7 216.1L129.9 216.8L132.2 217.6L134.5 218.4L136.8 219.1L139.1 219.9L141.4 220.6L143.7 221.4L146.0 222.1L148.3 222.7L150.6 223.2L152.9 223.8L155.2 224.3L157.5 224.9L159.8 225.4L162.1 226.0L164.4 226.5L166.7 227.5L169.0 228.6L171.3 229.6L173.6 230.5L175.9 231.0L178.2 231.6L180.5 232.1L182.8 232.7L185.1 233.2L187.3 233.8L189.6 234.3L191.9 234.8L194.2 234.8L196.5 234.7L198.8 234.7L201.1 234.6L203.4 234.6L205.7 234.5L208.0 234.5L210.3 234.5L212.6 234.4L214.9 234.4L217.2 234.3L219.5 234.3L221.8 234.3L224.1 234.2L226.4 234.2L228.7 234.1L231.0 234.1L233.3 234.0L235.6 233.9L237.9 233.8L240.2 233.7L242.5 233.6L244.7 233.6L247.0 233.5L249.3 233.4L251.6 233.3L253.9 233.2L256.2 233.2L258.5 233.1L260.8 233.0L263.1 232.9L265.4 232.7L267.7 232.5L270.0 232.4L272.3 232.2L274.6 232.0L276.9 231.8L279.2 231.6L281.5 231.5L283.8 231.3L286.1 231.1L288.4 230.9L290.7 230.7L293.0 230.6L295.3 230.4L297.6 230.1L299.9 229.7L302.1 229.4L304.4 229.1L306.7 228.8L309.0 228.5L311.3 228.2L313.6 227.9L315.9 227.6L318.2 227.3L320.5 227.0L322.8 226.6L325.1 226.3L327.4 225.9L329.7 225.5L332.0 225.1L334.3 224.8L336.6 224.4L338.9 224.0L341.2 223.7L343.5 223.3L345.8 222.9L348.1 222.5L350.4 222.1L352.7 221.7L355.0 221.3L357.3 220.9L359.5 220.5L361.8 219.9L364.1 219.3L366.4 218.7L368.7 218.0L371.0 217.4L373.3 216.8L375.6 216.4L377.9 216.0L380.2 215.7L382.5 215.3L384.8 215.0L387.1 214.7L389.4 214.3L391.7 214.0L394.0 213.6L396.3 213.3L398.6 212.9L400.9 212.6L403.2 212.4L405.5 212.1L407.8 211.9L410.1 211.6L412.4 211.4L414.7 211.1L416.9 211.0L419.2 210.9L421.5 210.8L423.8 210.7L426.1 210.6L428.4 210.5L430.7 210.4L433.0 210.3L435.3 210.2L437.6 210.1L439.9 210.0L442.2 209.9L444.5 209.8L446.3 289.2L447.2 289.2L449.5 289.2L451.8 289.2L454.1 289.2L456.4 289.2L458.7 289.2L461.0 289.2L463.3 289.2L465.6 289.2L467.9 289.2L470.2 289.2L472.5 289.2L474.7 289.2L477.0 289.2L479.3 289.2L481.6 289.2L483.9 289.2L486.2 289.2L488.5 289.2L490.8 289.2L493.1 289.2L495.4 289.2L497.7 289.2L500.0 289.2" fill="none" stroke="#D09A00" stroke-width="1.3" stroke-linejoin="round"/>
<path d="M39.9 289.2L44.9 286.6L44.9 291.9Z" fill="#D09A00"/><path d="M42.2 289.2L47.2 286.6L47.2 291.9Z" fill="#D09A00"/><path d="M44.5 289.2L49.5 286.6L49.5 291.9Z" fill="#D09A00"/><path d="M46.8 289.2L51.8 286.6L51.8 291.9Z" fill="#D09A00"/><path d="M49.1 289.2L54.1 286.6L54.1 291.9Z" fill="#D09A00"/><path d="M51.4 289.2L56.4 286.6L56.4 291.9Z" fill="#D09A00"/><path d="M53.7 289.2L58.7 286.6L58.7 291.9Z" fill="#D09A00"/><path d="M56.0 289.2L61.0 286.6L61.0 291.9Z" fill="#D09A00"/><path d="M58.3 289.2L63.3 286.6L63.3 291.9Z" fill="#D09A00"/><path d="M60.5 289.2L65.6 286.6L65.6 291.9Z" fill="#D09A00"/><path d="M62.8 289.2L67.9 286.6L67.9 291.9Z" fill="#D09A00"/><path d="M65.1 289.2L70.2 286.6L70.2 291.9Z" fill="#D09A00"/><path d="M67.4 289.2L72.5 286.6L72.5 291.9Z" fill="#D09A00"/><path d="M69.7 289.2L74.8 286.6L74.8 291.9Z" fill="#D09A00"/><path d="M72.0 289.2L77.1 286.6L77.1 291.9Z" fill="#D09A00"/><path d="M74.3 289.2L79.4 286.6L79.4 291.9Z" fill="#D09A00"/><path d="M76.6 289.2L81.7 286.6L81.7 291.9Z" fill="#D09A00"/><path d="M78.9 289.2L84.0 286.6L84.0 291.9Z" fill="#D09A00"/><path d="M81.2 289.2L86.2 286.6L86.2 291.9Z" fill="#D09A00"/><path d="M83.5 289.2L88.5 286.6L88.5 291.9Z" fill="#D09A00"/><path d="M85.8 289.2L90.8 286.6L90.8 291.9Z" fill="#D09A00"/><path d="M88.1 289.2L93.1 286.6L93.1 291.9Z" fill="#D09A00"/><path d="M90.4 289.2L95.4 286.6L95.4 291.9Z" fill="#D09A00"/><path d="M92.7 289.2L97.7 286.6L97.7 291.9Z" fill="#D09A00"/><path d="M95.0 289.2L100.0 286.6L100.0 291.9Z" fill="#D09A00"/><path d="M97.2 211.3L102.2 208.7L102.2 214.0Z" fill="#D09A00"/><path d="M99.5 211.7L104.5 209.0L104.5 214.3Z" fill="#D09A00"/><path d="M101.8 212.1L106.8 209.4L106.8 214.7Z" fill="#D09A00"/><path d="M104.1 212.5L109.1 209.8L109.1 215.1Z" fill="#D09A00"/><path d="M106.4 212.8L111.4 210.2L111.4 215.5Z" fill="#D09A00"/><path d="M108.7 213.2L113.7 210.6L113.7 215.9Z" fill="#D09A00"/><path d="M111.0 213.6L116.0 211.0L116.0 216.3Z" fill="#D09A00"/><path d="M113.3 214.0L118.3 211.4L118.3 216.7Z" fill="#D09A00"/><path d="M115.6 214.4L120.6 211.7L120.6 217.0Z" fill="#D09A00"/><path d="M117.8 214.8L122.9 212.1L122.9 217.4Z" fill="#D09A00"/><path d="M120.1 215.2L125.2 212.5L125.2 217.8Z" fill="#D09A00"/><path d="M122.4 215.6L127.5 212.9L127.5 218.2Z" fill="#D09A00"/><path d="M124.7 216.1L129.8 213.4L129.8 218.7Z" fill="#D09A00"/><path d="M127.0 216.8L132.1 214.2L132.1 219.5Z" fill="#D09A00"/><path d="M129.3 217.6L134.4 214.9L134.4 220.2Z" fill="#D09A00"/><path d="M131.6 218.4L136.7 215.7L136.7 221.0Z" fill="#D09A00"/><path d="M133.9 219.1L139.0 216.5L139.0 221.8Z" fill="#D09A00"/><path d="M136.2 219.9L141.3 217.2L141.3 222.5Z" fill="#D09A00"/><path d="M138.5 220.6L143.5 218.0L143.5 223.3Z" fill="#D09A00"/><path d="M140.8 221.4L145.8 218.7L145.8 224.0Z" fill="#D09A00"/><path d="M143.1 222.1L148.1 219.5L148.1 224.8Z" fill="#D09A00"/><path d="M145.4 222.7L150.4 220.0L150.4 225.3Z" fill="#D09A00"/><path d="M147.7 223.2L152.7 220.6L152.7 225.9Z" fill="#D09A00"/><path d="M150.0 223.8L155.0 221.1L155.0 226.4Z" fill="#D09A00"/><path d="M152.3 224.3L157.3 221.7L157.3 227.0Z" fill="#D09A00"/><path d="M154.6 224.9L159.6 222.2L159.6 227.5Z" fill="#D09A00"/><path d="M156.9 225.4L161.9 222.8L161.9 228.1Z" fill="#D09A00"/><path d="M159.2 226.0L164.2 223.3L164.2 228.6Z" fill="#D09A00"/><path d="M161.5 226.5L166.5 223.9L166.5 229.2Z" fill="#D09A00"/><path d="M163.8 227.5L168.8 224.9L168.8 230.2Z" fill="#D09A00"/><path d="M166.1 228.6L171.1 225.9L171.1 231.2Z" fill="#D09A00"/><path d="M168.4 229.6L173.4 227.0L173.4 232.3Z" fill="#D09A00"/><path d="M170.7 230.5L175.7 227.9L175.7 233.2Z" fill="#D09A00"/><path d="M173.0 231.0L178.0 228.4L178.0 233.7Z" fill="#D09A00"/><path d="M175.2 231.6L180.3 228.9L180.3 234.2Z" fill="#D09A00"/><path d="M177.5 232.1L182.6 229.5L182.6 234.8Z" fill="#D09A00"/><path d="M179.8 232.7L184.9 230.0L184.9 235.3Z" fill="#D09A00"/><path d="M182.1 233.2L187.2 230.6L187.2 235.9Z" fill="#D09A00"/><path d="M184.4 233.8L189.5 231.1L189.5 236.4Z" fill="#D09A00"/><path d="M186.7 234.3L191.8 231.6L191.8 236.9Z" fill="#D09A00"/><path d="M189.0 234.8L194.1 232.1L194.1 237.4Z" fill="#D09A00"/><path d="M191.3 234.8L196.4 232.1L196.4 237.4Z" fill="#D09A00"/><path d="M193.6 234.7L198.7 232.1L198.7 237.4Z" fill="#D09A00"/><path d="M195.9 234.7L200.9 232.0L200.9 237.3Z" fill="#D09A00"/><path d="M198.2 234.6L203.2 232.0L203.2 237.3Z" fill="#D09A00"/><path d="M200.5 234.6L205.5 231.9L205.5 237.2Z" fill="#D09A00"/><path d="M202.8 234.5L207.8 231.9L207.8 237.2Z" fill="#D09A00"/><path d="M205.1 234.5L210.1 231.9L210.1 237.2Z" fill="#D09A00"/><path d="M207.4 234.5L212.4 231.8L212.4 237.1Z" fill="#D09A00"/><path d="M209.7 234.4L214.7 231.8L214.7 237.1Z" fill="#D09A00"/><path d="M212.0 234.4L217.0 231.7L217.0 237.0Z" fill="#D09A00"/><path d="M214.3 234.3L219.3 231.7L219.3 237.0Z" fill="#D09A00"/><path d="M216.6 234.3L221.6 231.6L221.6 236.9Z" fill="#D09A00"/><path d="M218.9 234.3L223.9 231.6L223.9 236.9Z" fill="#D09A00"/><path d="M221.2 234.2L226.2 231.6L226.2 236.9Z" fill="#D09A00"/><path d="M223.5 234.2L228.5 231.5L228.5 236.8Z" fill="#D09A00"/><path d="M225.8 234.1L230.8 231.5L230.8 236.8Z" fill="#D09A00"/><path d="M228.1 234.1L233.1 231.4L233.1 236.7Z" fill="#D09A00"/><path d="M230.4 234.0L235.4 231.3L235.4 236.6Z" fill="#D09A00"/><path d="M232.6 233.9L237.7 231.2L237.7 236.5Z" fill="#D09A00"/><path d="M234.9 233.8L240.0 231.2L240.0 236.5Z" fill="#D09A00"/><path d="M237.2 233.7L242.3 231.1L242.3 236.4Z" fill="#D09A00"/><path d="M239.5 233.6L244.6 231.0L244.6 236.3Z" fill="#D09A00"/><path d="M241.8 233.6L246.9 230.9L246.9 236.2Z" fill="#D09A00"/><path d="M244.1 233.5L249.2 230.8L249.2 236.1Z" fill="#D09A00"/><path d="M246.4 233.4L251.5 230.8L251.5 236.1Z" fill="#D09A00"/><path d="M248.7 233.3L253.8 230.7L253.8 236.0Z" fill="#D09A00"/><path d="M251.0 233.2L256.1 230.6L256.1 235.9Z" fill="#D09A00"/><path d="M253.3 233.2L258.3 230.5L258.3 235.8Z" fill="#D09A00"/><path d="M255.6 233.1L260.6 230.4L260.6 235.7Z" fill="#D09A00"/><path d="M257.9 233.0L262.9 230.3L262.9 235.6Z" fill="#D09A00"/><path d="M260.2 232.9L265.2 230.3L265.2 235.6Z" fill="#D09A00"/><path d="M262.5 232.7L267.5 230.1L267.5 235.4Z" fill="#D09A00"/><path d="M264.8 232.5L269.8 229.9L269.8 235.2Z" fill="#D09A00"/><path d="M267.1 232.4L272.1 229.7L272.1 235.0Z" fill="#D09A00"/><path d="M269.4 232.2L274.4 229.5L274.4 234.8Z" fill="#D09A00"/><path d="M271.7 232.0L276.7 229.4L276.7 234.7Z" fill="#D09A00"/><path d="M274.0 231.8L279.0 229.2L279.0 234.5Z" fill="#D09A00"/><path d="M276.3 231.6L281.3 229.0L281.3 234.3Z" fill="#D09A00"/><path d="M278.6 231.5L283.6 228.8L283.6 234.1Z" fill="#D09A00"/><path d="M280.9 231.3L285.9 228.6L285.9 233.9Z" fill="#D09A00"/><path d="M283.2 231.1L288.2 228.5L288.2 233.8Z" fill="#D09A00"/><path d="M285.5 230.9L290.5 228.3L290.5 233.6Z" fill="#D09A00"/><path d="M287.8 230.7L292.8 228.1L292.8 233.4Z" fill="#D09A00"/><path d="M290.0 230.6L295.1 227.9L295.1 233.2Z" fill="#D09A00"/><path d="M292.3 230.4L297.4 227.7L297.4 233.0Z" fill="#D09A00"/><path d="M294.6 230.1L299.7 227.4L299.7 232.7Z" fill="#D09A00"/><path d="M296.9 229.7L302.0 227.1L302.0 232.4Z" fill="#D09A00"/><path d="M299.2 229.4L304.3 226.8L304.3 232.1Z" fill="#D09A00"/><path d="M301.5 229.1L306.6 226.5L306.6 231.8Z" fill="#D09A00"/><path d="M303.8 228.8L308.9 226.2L308.9 231.5Z" fill="#D09A00"/><path d="M306.1 228.5L311.2 225.9L311.2 231.2Z" fill="#D09A00"/><path d="M308.4 228.2L313.5 225.6L313.5 230.9Z" fill="#D09A00"/><path d="M310.7 227.9L315.7 225.2L315.7 230.5Z" fill="#D09A00"/><path d="M313.0 227.6L318.0 224.9L318.0 230.2Z" fill="#D09A00"/><path d="M315.3 227.3L320.3 224.6L320.3 229.9Z" fill="#D09A00"/><path d="M317.6 227.0L322.6 224.3L322.6 229.6Z" fill="#D09A00"/><path d="M319.9 226.6L324.9 224.0L324.9 229.3Z" fill="#D09A00"/><path d="M322.2 226.3L327.2 223.6L327.2 228.9Z" fill="#D09A00"/><path d="M324.5 225.9L329.5 223.2L329.5 228.5Z" fill="#D09A00"/><path d="M326.8 225.5L331.8 222.9L331.8 228.2Z" fill="#D09A00"/><path d="M329.1 225.1L334.1 222.5L334.1 227.8Z" fill="#D09A00"/><path d="M331.4 224.8L336.4 222.1L336.4 227.4Z" fill="#D09A00"/><path d="M333.7 224.4L338.7 221.7L338.7 227.0Z" fill="#D09A00"/><path d="M336.0 224.0L341.0 221.4L341.0 226.7Z" fill="#D09A00"/><path d="M338.3 223.7L343.3 221.0L343.3 226.3Z" fill="#D09A00"/><path d="M340.6 223.3L345.6 220.6L345.6 225.9Z" fill="#D09A00"/><path d="M342.9 222.9L347.9 220.2L347.9 225.5Z" fill="#D09A00"/><path d="M345.2 222.5L350.2 219.8L350.2 225.1Z" fill="#D09A00"/><path d="M347.4 222.1L352.5 219.4L352.5 224.7Z" fill="#D09A00"/><path d="M349.7 221.7L354.8 219.0L354.8 224.3Z" fill="#D09A00"/><path d="M352.0 221.3L357.1 218.6L357.1 223.9Z" fill="#D09A00"/><path d="M354.3 220.9L359.4 218.2L359.4 223.5Z" fill="#D09A00"/><path d="M356.6 220.5L361.7 217.8L361.7 223.1Z" fill="#D09A00"/><path d="M358.9 219.9L364.0 217.3L364.0 222.6Z" fill="#D09A00"/><path d="M361.2 219.3L366.3 216.6L366.3 221.9Z" fill="#D09A00"/><path d="M363.5 218.7L368.6 216.0L368.6 221.3Z" fill="#D09A00"/><path d="M365.8 218.0L370.9 215.4L370.9 220.7Z" fill="#D09A00"/><path d="M368.1 217.4L373.1 214.8L373.1 220.1Z" fill="#D09A00"/><path d="M370.4 216.8L375.4 214.2L375.4 219.5Z" fill="#D09A00"/><path d="M372.7 216.4L377.7 213.7L377.7 219.0Z" fill="#D09A00"/><path d="M375.0 216.0L380.0 213.4L380.0 218.7Z" fill="#D09A00"/><path d="M377.3 215.7L382.3 213.0L382.3 218.3Z" fill="#D09A00"/><path d="M379.6 215.3L384.6 212.7L384.6 218.0Z" fill="#D09A00"/><path d="M381.9 215.0L386.9 212.3L386.9 217.6Z" fill="#D09A00"/><path d="M384.2 214.7L389.2 212.0L389.2 217.3Z" fill="#D09A00"/><path d="M386.5 214.3L391.5 211.7L391.5 217.0Z" fill="#D09A00"/><path d="M388.8 214.0L393.8 211.3L393.8 216.6Z" fill="#D09A00"/><path d="M391.1 213.6L396.1 211.0L396.1 216.3Z" fill="#D09A00"/><path d="M393.4 213.3L398.4 210.6L398.4 215.9Z" fill="#D09A00"/><path d="M395.7 212.9L400.7 210.3L400.7 215.6Z" fill="#D09A00"/><path d="M398.0 212.6L403.0 210.0L403.0 215.3Z" fill="#D09A00"/><path d="M400.3 212.4L405.3 209.7L405.3 215.0Z" fill="#D09A00"/><path d="M402.6 212.1L407.6 209.5L407.6 214.8Z" fill="#D09A00"/><path d="M404.8 211.9L409.9 209.2L409.9 214.5Z" fill="#D09A00"/><path d="M407.1 211.6L412.2 209.0L412.2 214.3Z" fill="#D09A00"/><path d="M409.4 211.4L414.5 208.7L414.5 214.0Z" fill="#D09A00"/><path d="M411.7 211.1L416.8 208.5L416.8 213.8Z" fill="#D09A00"/><path d="M414.0 211.0L419.1 208.4L419.1 213.7Z" fill="#D09A00"/><path d="M416.3 210.9L421.4 208.3L421.4 213.6Z" fill="#D09A00"/><path d="M418.6 210.8L423.7 208.2L423.7 213.5Z" fill="#D09A00"/><path d="M420.9 210.7L426.0 208.1L426.0 213.4Z" fill="#D09A00"/><path d="M423.2 210.6L428.3 208.0L428.3 213.3Z" fill="#D09A00"/><path d="M425.5 210.5L430.5 207.9L430.5 213.2Z" fill="#D09A00"/><path d="M427.8 210.4L432.8 207.8L432.8 213.1Z" fill="#D09A00"/><path d="M430.1 210.3L435.1 207.7L435.1 213.0Z" fill="#D09A00"/><path d="M432.4 210.2L437.4 207.6L437.4 212.9Z" fill="#D09A00"/><path d="M434.7 210.1L439.7 207.5L439.7 212.8Z" fill="#D09A00"/><path d="M437.0 210.0L442.0 207.4L442.0 212.7Z" fill="#D09A00"/><path d="M439.3 209.9L444.3 207.3L444.3 212.6Z" fill="#D09A00"/><path d="M441.6 209.8L446.6 207.2L446.6 212.5Z" fill="#D09A00"/><path d="M443.4 289.2L448.4 286.6L448.4 291.9Z" fill="#D09A00"/><path d="M444.3 289.2L449.3 286.6L449.3 291.9Z" fill="#D09A00"/><path d="M446.6 289.2L451.6 286.6L451.6 291.9Z" fill="#D09A00"/><path d="M448.9 289.2L453.9 286.6L453.9 291.9Z" fill="#D09A00"/><path d="M451.2 289.2L456.2 286.6L456.2 291.9Z" fill="#D09A00"/><path d="M453.5 289.2L458.5 286.6L458.5 291.9Z" fill="#D09A00"/><path d="M455.8 289.2L460.8 286.6L460.8 291.9Z" fill="#D09A00"/><path d="M458.1 289.2L463.1 286.6L463.1 291.9Z" fill="#D09A00"/><path d="M460.4 289.2L465.4 286.6L465.4 291.9Z" fill="#D09A00"/><path d="M462.6 289.2L467.7 286.6L467.7 291.9Z" fill="#D09A00"/><path d="M464.9 289.2L470.0 286.6L470.0 291.9Z" fill="#D09A00"/><path d="M467.2 289.2L472.3 286.6L472.3 291.9Z" fill="#D09A00"/><path d="M469.5 289.2L474.6 286.6L474.6 291.9Z" fill="#D09A00"/><path d="M471.8 289.2L476.9 286.6L476.9 291.9Z" fill="#D09A00"/><path d="M474.1 289.2L479.2 286.6L479.2 291.9Z" fill="#D09A00"/><path d="M476.4 289.2L481.5 286.6L481.5 291.9Z" fill="#D09A00"/><path d="M478.7 289.2L483.8 286.6L483.8 291.9Z" fill="#D09A00"/><path d="M481.0 289.2L486.1 286.6L486.1 291.9Z" fill="#D09A00"/><path d="M483.3 289.2L488.3 286.6L488.3 291.9Z" fill="#D09A00"/><path d="M485.6 289.2L490.6 286.6L490.6 291.9Z" fill="#D09A00"/><path d="M487.9 289.2L492.9 286.6L492.9 291.9Z" fill="#D09A00"/><path d="M490.2 289.2L495.2 286.6L495.2 291.9Z" fill="#D09A00"/><path d="M492.5 289.2L497.5 286.6L497.5 291.9Z" fill="#D09A00"/><path d="M494.8 289.2L499.8 286.6L499.8 291.9Z" fill="#D09A00"/><path d="M497.1 289.2L502.1 286.6L502.1 291.9Z" fill="#D09A00"/>
</g>
<text x="105.0" y="323.7" class="an">Open-off cut</text>
<text x="448.2" y="322.9" class="an">Working face</text>
<path d="M115.7 329.3L99.8 346.3M99.8 346.3l0.5-5.8M99.8 346.3l5.8-1.7" stroke="#FF1414" stroke-width="1.6" fill="none"/>
<path d="M462.2 325.2L445.9 346.2M445.9 346.2l0.4-6.2M445.9 346.2l5.5-2.5" stroke="#FF1414" stroke-width="1.6" fill="none"/>
<text x="283.5" y="384.6" text-anchor="middle" class="ax">Measuring point position</text>
<text transform="translate(15.3 200.8) rotate(-90)" text-anchor="middle" class="ax">Bulking coefficient</text>
<rect x="43.0" y="55.1" width="482.2" height="292.3" fill="none" stroke="#000" stroke-width="1.3"/>
<text transform="translate(43.0 362.7) scale(0.9 1)" text-anchor="middle" class="tk">0</text>
<text transform="translate(100.4 362.7) scale(0.9 1)" text-anchor="middle" class="tk">50</text>
<text transform="translate(157.8 362.7) scale(0.9 1)" text-anchor="middle" class="tk">100</text>
<text transform="translate(215.2 362.7) scale(0.9 1)" text-anchor="middle" class="tk">150</text>
<text transform="translate(272.6 362.7) scale(0.9 1)" text-anchor="middle" class="tk">200</text>
<text transform="translate(330.0 362.7) scale(0.9 1)" text-anchor="middle" class="tk">250</text>
<text transform="translate(387.4 362.7) scale(0.9 1)" text-anchor="middle" class="tk">300</text>
<text transform="translate(444.8 362.7) scale(0.9 1)" text-anchor="middle" class="tk">350</text>
<text transform="translate(502.2 362.7) scale(0.9 1)" text-anchor="middle" class="tk">400</text>
<text transform="translate(36 351.4) scale(0.9 1)" text-anchor="end" class="tk">0.8</text>
<text transform="translate(532.8 351.4) scale(0.9 1)" text-anchor="start" class="tk">0.8</text>
<text transform="translate(36 292.9) scale(0.9 1)" text-anchor="end" class="tk">1.0</text>
<text transform="translate(532.8 292.9) scale(0.9 1)" text-anchor="start" class="tk">1.0</text>
<text transform="translate(36 234.5) scale(0.9 1)" text-anchor="end" class="tk">1.2</text>
<text transform="translate(532.8 234.5) scale(0.9 1)" text-anchor="start" class="tk">1.2</text>
<text transform="translate(36 176.0) scale(0.9 1)" text-anchor="end" class="tk">1.4</text>
<text transform="translate(532.8 176.0) scale(0.9 1)" text-anchor="start" class="tk">1.4</text>
<text transform="translate(36 117.6) scale(0.9 1)" text-anchor="end" class="tk">1.6</text>
<text transform="translate(532.8 117.6) scale(0.9 1)" text-anchor="start" class="tk">1.6</text>
<text transform="translate(36 59.1) scale(0.9 1)" text-anchor="end" class="tk">1.8</text>
<text transform="translate(532.8 59.1) scale(0.9 1)" text-anchor="start" class="tk">1.8</text>
<path d="M192.1 73.0h27.2" stroke="#4B4B4B" stroke-width="1.3"/>
<rect x="203.68" y="70.88" width="4.24" height="4.24" fill="#4B4B4B"/>
<text x="222.3" y="77.5" class="lg">0~6.7 m</text>
<path d="M278.5 73.0h27.2" stroke="#F14040" stroke-width="1.3"/>
<circle cx="292.2" cy="73.0" r="2.5" fill="#F14040"/>
<text x="308.7" y="77.5" class="lg">0~8.7 m</text>
<path d="M192.1 88.0h27.2" stroke="#1A6FDF" stroke-width="1.3"/>
<path d="M205.8 85.1L208.4 90.1L203.1 90.1Z" fill="#1A6FDF"/>
<text x="222.3" y="92.5" class="lg">0~10.7 m</text>
<path d="M278.5 88.0h27.2" stroke="#37AD6B" stroke-width="1.3"/>
<path d="M292.2 90.9L294.8 85.9L289.6 85.9Z" fill="#37AD6B"/>
<text x="308.7" y="92.5" class="lg">0~12.7 m</text>
<path d="M192.1 102.4h27.2" stroke="#B177DE" stroke-width="1.3"/>
<path d="M205.8 99.4L208.4 102.4L205.8 105.4L203.1 102.4Z" fill="#B177DE"/>
<text x="222.3" y="106.9" class="lg">0~14.7 m</text>
<path d="M278.5 102.4h27.2" stroke="#D09A00" stroke-width="1.3"/>
<path d="M289.3 102.4L294.3 99.8L294.3 105.1Z" fill="#D09A00"/>
<text x="308.7" y="106.9" class="lg">0~16.7 m</text>
<rect x="227.4" y="4.3" width="41.3" height="15.3" fill="#8BA1CB" stroke="#111" stroke-width="1.05"/>
<rect x="227.4" y="33.9" width="41.3" height="15.7" fill="#FBE5D6" stroke="#111" stroke-width="1.05"/>
<rect x="465.0" y="4.3" width="41.3" height="15.3" fill="#E2C56E" stroke="#111" stroke-width="1.05"/>
<rect x="465.0" y="34.0" width="41.3" height="15.6" fill="#A0A0A0" stroke="#111" stroke-width="1.05"/>
<text x="59.2" y="17.7" class="tl" textLength="153.5" lengthAdjust="spacingAndGlyphs">Natural accumulation area</text>
<text x="60.9" y="47.0" class="tl" textLength="146.2" lengthAdjust="spacingAndGlyphs">Gradual compaction area</text>
<text x="343.0" y="17.5" class="tl" textLength="109" lengthAdjust="spacingAndGlyphs">Load-affected area</text>
<text x="343.0" y="46.6" class="tl" textLength="61.3" lengthAdjust="spacingAndGlyphs">Coal pillar</text>
</svg>
</body></html>
